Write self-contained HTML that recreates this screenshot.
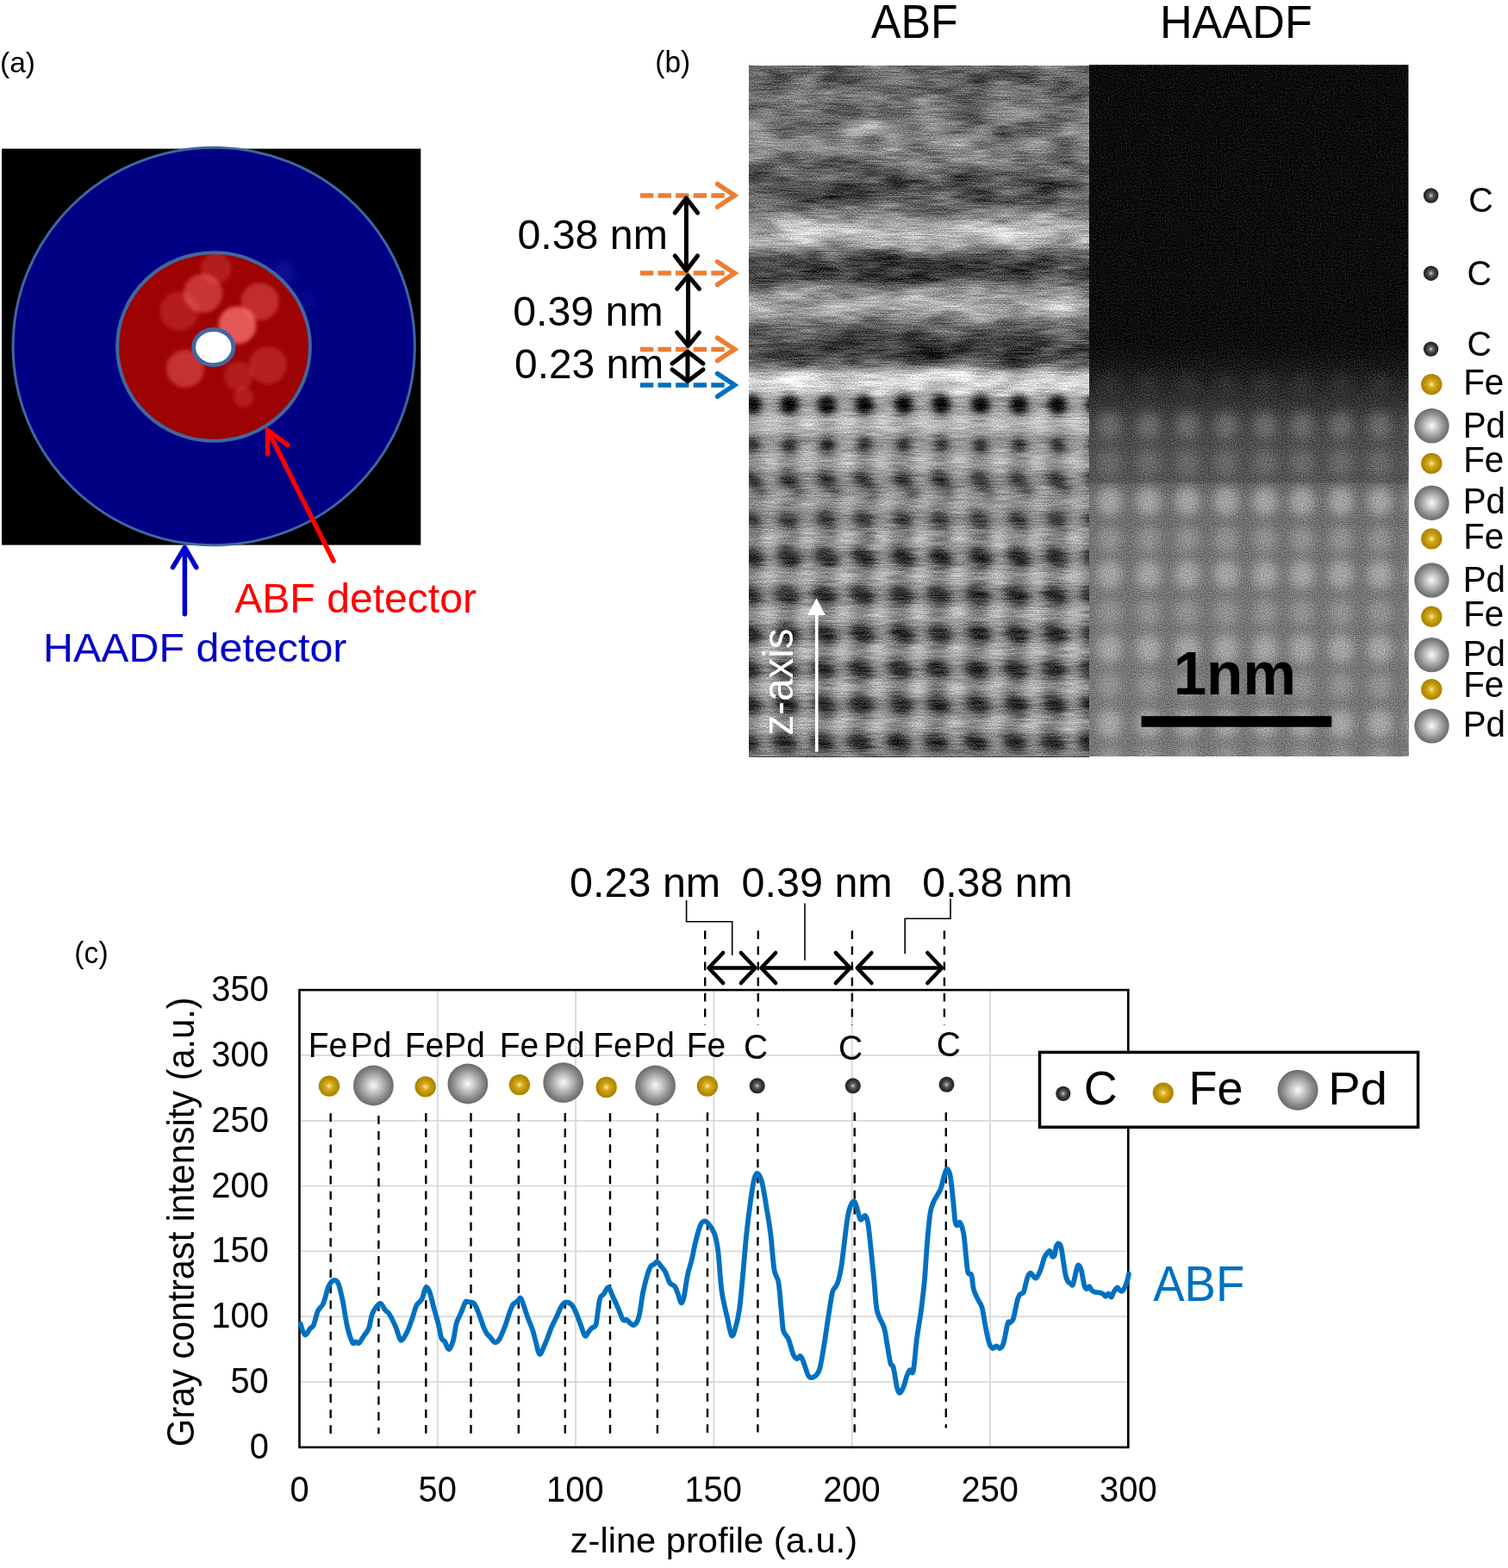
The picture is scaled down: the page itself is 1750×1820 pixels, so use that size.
<!DOCTYPE html>
<html><head><meta charset="utf-8"><title>ABF/HAADF figure</title>
<style>html,body{margin:0;padding:0;background:#fff;}svg{display:block;}text{font-family:"Liberation Sans", Arial, sans-serif;}</style></head>
<body><svg width="1750" height="1820" viewBox="0 0 1750 1820">

<defs>
<radialGradient id="gC" cx="50%" cy="50%" r="50%">
 <stop offset="0" stop-color="#d8d8d8"/><stop offset="0.25" stop-color="#707070"/>
 <stop offset="0.6" stop-color="#3a3a3a"/><stop offset="1" stop-color="#202020"/>
</radialGradient>
<radialGradient id="gFe" cx="50%" cy="50%" r="50%">
 <stop offset="0" stop-color="#ffeea0"/><stop offset="0.3" stop-color="#d9ae22"/>
 <stop offset="0.7" stop-color="#bb9005"/><stop offset="1" stop-color="#a88200"/>
</radialGradient>
<radialGradient id="gPd" cx="50%" cy="50%" r="50%">
 <stop offset="0" stop-color="#fafafa"/><stop offset="0.3" stop-color="#cdcdcd"/>
 <stop offset="0.72" stop-color="#8e8e8e"/><stop offset="1" stop-color="#6a6a6a"/>
</radialGradient>
<radialGradient id="gBlob" cx="50%" cy="50%" r="50%">
 <stop offset="0" stop-color="#e86060" stop-opacity="0.55"/><stop offset="0.8" stop-color="#e05050" stop-opacity="0.45"/>
 <stop offset="1" stop-color="#e05050" stop-opacity="0"/>
</radialGradient>
<filter id="blur2" x="-20%" y="-20%" width="140%" height="140%"><feGaussianBlur stdDeviation="2"/></filter>
<filter id="blur4" x="-30%" y="-30%" width="160%" height="160%"><feGaussianBlur stdDeviation="4"/></filter>
<filter id="blur6" x="-30%" y="-30%" width="160%" height="160%"><feGaussianBlur stdDeviation="6"/></filter>
<filter id="blur8" x="-50%" y="-50%" width="200%" height="200%"><feGaussianBlur stdDeviation="8"/></filter>
<filter id="blur10" x="-50%" y="-50%" width="200%" height="200%"><feGaussianBlur stdDeviation="10"/></filter>
<linearGradient id="abfProf" x1="0" y1="76.0" x2="0" y2="878.5" gradientUnits="userSpaceOnUse"><stop offset="0.0000" stop-color="rgb(105,105,105)"/><stop offset="0.0237" stop-color="rgb(100,100,100)"/><stop offset="0.0424" stop-color="rgb(112,112,112)"/><stop offset="0.0760" stop-color="rgb(115,115,115)"/><stop offset="0.0922" stop-color="rgb(128,128,128)"/><stop offset="0.1196" stop-color="rgb(126,126,126)"/><stop offset="0.1421" stop-color="rgb(116,116,116)"/><stop offset="0.1607" stop-color="rgb(88,88,88)"/><stop offset="0.1769" stop-color="rgb(80,80,80)"/><stop offset="0.1944" stop-color="rgb(90,90,90)"/><stop offset="0.2106" stop-color="rgb(120,120,120)"/><stop offset="0.2293" stop-color="rgb(170,170,170)"/><stop offset="0.2442" stop-color="rgb(185,185,185)"/><stop offset="0.2592" stop-color="rgb(165,165,165)"/><stop offset="0.2692" stop-color="rgb(110,110,110)"/><stop offset="0.2816" stop-color="rgb(70,70,70)"/><stop offset="0.2941" stop-color="rgb(62,62,62)"/><stop offset="0.3090" stop-color="rgb(72,72,72)"/><stop offset="0.3202" stop-color="rgb(115,115,115)"/><stop offset="0.3352" stop-color="rgb(165,165,165)"/><stop offset="0.3477" stop-color="rgb(175,175,175)"/><stop offset="0.3614" stop-color="rgb(150,150,150)"/><stop offset="0.3751" stop-color="rgb(110,110,110)"/><stop offset="0.3888" stop-color="rgb(75,75,75)"/><stop offset="0.4037" stop-color="rgb(70,70,70)"/><stop offset="0.4212" stop-color="rgb(72,72,72)"/><stop offset="0.4336" stop-color="rgb(110,110,110)"/><stop offset="0.4461" stop-color="rgb(200,200,200)"/><stop offset="0.4586" stop-color="rgb(218,218,218)"/><stop offset="0.4710" stop-color="rgb(205,205,205)"/><stop offset="0.4810" stop-color="rgb(165,165,165)"/><stop offset="0.4984" stop-color="rgb(150,150,150)"/><stop offset="0.5134" stop-color="rgb(170,170,170)"/><stop offset="0.5283" stop-color="rgb(168,168,168)"/><stop offset="0.5408" stop-color="rgb(150,150,150)"/><stop offset="0.5657" stop-color="rgb(145,145,145)"/><stop offset="0.6031" stop-color="rgb(140,140,140)"/><stop offset="0.7776" stop-color="rgb(136,136,136)"/><stop offset="1.0000" stop-color="rgb(134,134,134)"/></linearGradient>
<clipPath id="abfClip"><rect x="869.0" y="76.0" width="395.0" height="802.5"/></clipPath>
<clipPath id="hadClip"><rect x="1264.0" y="75.5" width="370.20000000000005" height="802.5"/></clipPath>
<filter id="grainTop" x="0" y="0" width="100%" height="100%" color-interpolation-filters="sRGB"><feTurbulence type="fractalNoise" baseFrequency="0.7 0.9" numOctaves="1" seed="7" result="n1"/><feTurbulence type="fractalNoise" baseFrequency="0.04 0.6" numOctaves="1" seed="3" result="n2"/><feTurbulence type="fractalNoise" baseFrequency="0.02 0.05" numOctaves="2" seed="5" result="n3"/><feComposite in="n1" in2="n2" operator="arithmetic" k1="0" k2="0.6" k3="0.4" k4="0" result="n12"/><feColorMatrix in="n12" type="matrix" values="1 0 0 0 0  1 0 0 0 0  1 0 0 0 0  0 0 0 0 1" result="ng"/><feColorMatrix in="n3" type="matrix" values="1 0 0 0 0  1 0 0 0 0  1 0 0 0 0  0 0 0 0 1" result="nb"/><feComposite in="SourceGraphic" in2="ng" operator="arithmetic" k1="0" k2="1" k3="1.1" k4="-0.55" result="s1"/><feComposite in="s1" in2="nb" operator="arithmetic" k1="0" k2="1" k3="0.5" k4="-0.25"/></filter>
<filter id="grain" x="0" y="0" width="100%" height="100%" color-interpolation-filters="sRGB"><feTurbulence type="fractalNoise" baseFrequency="0.7 0.9" numOctaves="1" seed="7" result="n1"/><feTurbulence type="fractalNoise" baseFrequency="0.04 0.6" numOctaves="1" seed="3" result="n2"/><feComposite in="n1" in2="n2" operator="arithmetic" k1="0" k2="0.6" k3="0.4" k4="0" result="n12"/><feColorMatrix in="n12" type="matrix" values="1 0 0 0 0  1 0 0 0 0  1 0 0 0 0  0 0 0 0 1" result="ng"/><feComposite in="SourceGraphic" in2="ng" operator="arithmetic" k1="0" k2="1" k3="1.0" k4="-0.5"/></filter>
<clipPath id="abfTop"><rect x="869.0" y="76.0" width="395.0" height="384.0"/></clipPath>
<clipPath id="abfBot"><rect x="869.0" y="460" width="395.0" height="418.5"/></clipPath>
<filter id="grain2" x="0" y="0" width="100%" height="100%" color-interpolation-filters="sRGB"><feTurbulence type="fractalNoise" baseFrequency="0.8 0.8" numOctaves="1" seed="11" result="n"/><feColorMatrix in="n" type="matrix" values="1 0 0 0 0  1 0 0 0 0  1 0 0 0 0  0 0 0 0 1" result="ng"/><feComposite in="SourceGraphic" in2="ng" operator="arithmetic" k1="0" k2="1" k3="0.55" k4="-0.275"/></filter>
<linearGradient id="hadProf" x1="0" y1="75.5" x2="0" y2="878.0" gradientUnits="userSpaceOnUse"><stop offset="0.0000" stop-color="rgb(10,10,10)"/><stop offset="0.3981" stop-color="rgb(11,11,11)"/><stop offset="0.4168" stop-color="rgb(16,16,16)"/><stop offset="0.4355" stop-color="rgb(24,24,24)"/><stop offset="0.4542" stop-color="rgb(34,34,34)"/><stop offset="0.4729" stop-color="rgb(44,44,44)"/><stop offset="0.4916" stop-color="rgb(54,54,54)"/><stop offset="0.5103" stop-color="rgb(64,64,64)"/><stop offset="0.5290" stop-color="rgb(72,72,72)"/><stop offset="0.5539" stop-color="rgb(78,78,78)"/><stop offset="0.5850" stop-color="rgb(82,82,82)"/><stop offset="0.6025" stop-color="rgb(84,84,84)"/><stop offset="0.6062" stop-color="rgb(100,100,100)"/><stop offset="0.6287" stop-color="rgb(108,108,108)"/><stop offset="0.6785" stop-color="rgb(112,112,112)"/><stop offset="0.7782" stop-color="rgb(116,116,116)"/><stop offset="1.0000" stop-color="rgb(118,118,118)"/></linearGradient>
</defs>

<rect width="1750" height="1820" fill="#fff"/>
<text x="-0.03" y="83.60" font-size="34.07" fill="#000" textLength="40.96" lengthAdjust="spacingAndGlyphs">(a)</text>
<rect x="2" y="172.6" width="486.3" height="460" fill="#000"/>
<ellipse cx="248.2" cy="402" rx="233.1" ry="230.8" fill="#000084" stroke="#41679e" stroke-width="3"/>
<g filter="url(#blur4)" opacity="0.5"><circle cx="328" cy="318" r="14" fill="#1a1aa0"/><circle cx="355" cy="350" r="12" fill="#10109a"/></g>
<ellipse cx="248" cy="402.5" rx="111.9" ry="109.3" fill="#9e0303" stroke="#41679e" stroke-width="4"/>
<clipPath id="redclip"><ellipse cx="248" cy="402.5" rx="110" ry="107.5"/></clipPath>
<g clip-path="url(#redclip)">
<circle cx="235.6" cy="340.4" r="22.6" fill="#ff7a7a" opacity="0.43" filter="url(#blur2)"/>
<circle cx="275.4" cy="377.4" r="22" fill="#ff7a7a" opacity="0.72" filter="url(#blur2)"/>
<circle cx="301.5" cy="350" r="22" fill="#ff7a7a" opacity="0.36" filter="url(#blur2)"/>
<circle cx="208.2" cy="361" r="23" fill="#ff7a7a" opacity="0.22" filter="url(#blur2)"/>
<circle cx="215" cy="428" r="22" fill="#ff7a7a" opacity="0.40" filter="url(#blur2)"/>
<circle cx="311" cy="424" r="22" fill="#ff7a7a" opacity="0.25" filter="url(#blur2)"/>
<circle cx="276.8" cy="436.4" r="17" fill="#ff7a7a" opacity="0.22" filter="url(#blur2)"/>
<circle cx="282.3" cy="461" r="12" fill="#ff7a7a" opacity="0.22" filter="url(#blur2)"/>
<circle cx="250.7" cy="311.5" r="18" fill="#ff7a7a" opacity="0.22" filter="url(#blur2)"/>
</g>
<ellipse cx="247.8" cy="403.1" rx="23.1" ry="20.6" fill="#fff" stroke="#41679e" stroke-width="4.8"/>
<g stroke="#ff0000" stroke-width="5.5" stroke-linecap="round" stroke-linejoin="round" fill="none"><line x1="387" y1="651" x2="311" y2="500"/><polyline points="310.7,527 310.3,499 333.6,516.4"/></g>
<g stroke="#0000cc" stroke-width="5.5" stroke-linecap="round" stroke-linejoin="round" fill="none"><line x1="214.4" y1="712.7" x2="214.4" y2="636"/><polyline points="200.5,658.6 214.4,635.5 227.8,658.6"/></g>
<text x="272.17" y="710.60" font-size="47.31" fill="#ff0000" textLength="280.88" lengthAdjust="spacingAndGlyphs">ABF detector</text>
<text x="50.11" y="768.20" font-size="47.03" fill="#0000c8" textLength="352.31" lengthAdjust="spacingAndGlyphs">HAADF detector</text>
<text x="760.32" y="83.70" font-size="34.34" fill="#000" textLength="40.94" lengthAdjust="spacingAndGlyphs">(b)</text>
<text x="1010.88" y="43.90" font-size="54.69" fill="#000" textLength="100.64" lengthAdjust="spacingAndGlyphs">ABF</text>
<text x="1345.88" y="43.80" font-size="54.40" fill="#000" textLength="177.00" lengthAdjust="spacingAndGlyphs">HAADF</text>
<g clip-path="url(#abfTop)"><g filter="url(#grainTop)"><rect x="869.0" y="76.0" width="395.0" height="802.5" fill="url(#abfProf)"/><g filter="url(#blur6)"><ellipse cx="912" cy="95" rx="30" ry="10" fill="rgb(60,60,60)" opacity="0.6"/><ellipse cx="1010" cy="215" rx="45" ry="12" fill="rgb(45,45,45)" opacity="0.7"/><ellipse cx="1177" cy="154" rx="25" ry="8" fill="rgb(60,60,60)" opacity="0.5"/><ellipse cx="1212" cy="233" rx="22" ry="8" fill="rgb(60,60,60)" opacity="0.5"/><ellipse cx="1006" cy="148" rx="30" ry="7" fill="rgb(200,200,200)" opacity="0.5"/><ellipse cx="1106" cy="166" rx="25" ry="7" fill="rgb(200,200,200)" opacity="0.5"/><ellipse cx="1000" cy="312" rx="60" ry="14" fill="rgb(40,40,40)" opacity="0.6"/><ellipse cx="1060" cy="305" rx="70" ry="10" fill="rgb(55,55,55)" opacity="0.4"/><ellipse cx="983" cy="393" rx="30" ry="10" fill="rgb(30,30,30)" opacity="0.7"/><ellipse cx="1186" cy="408" rx="25" ry="13" fill="rgb(25,25,25)" opacity="0.8"/><ellipse cx="1070" cy="413" rx="25" ry="9" fill="rgb(40,40,40)" opacity="0.6"/><ellipse cx="1130" cy="398" rx="20" ry="8" fill="rgb(45,45,45)" opacity="0.5"/><ellipse cx="1240" cy="120" rx="20" ry="10" fill="rgb(60,60,60)" opacity="0.4"/><ellipse cx="1180" cy="270" rx="50" ry="8" fill="rgb(220,220,220)" opacity="0.5"/><ellipse cx="940" cy="270" rx="40" ry="8" fill="rgb(225,225,225)" opacity="0.5"/><ellipse cx="1220" cy="355" rx="40" ry="8" fill="rgb(210,210,210)" opacity="0.4"/><ellipse cx="920" cy="442" rx="30" ry="8" fill="rgb(235,235,235)" opacity="0.5"/><ellipse cx="1100" cy="440" rx="40" ry="8" fill="rgb(235,235,235)" opacity="0.4"/></g><g filter="url(#blur4)"><circle cx="872.9" cy="469.5" r="11" fill="rgb(0,0,0)" opacity="1.0"/><circle cx="916.3" cy="469.5" r="11" fill="rgb(0,0,0)" opacity="1.0"/><circle cx="959.7" cy="469.5" r="11" fill="rgb(0,0,0)" opacity="1.0"/><circle cx="1003.1" cy="469.5" r="11" fill="rgb(0,0,0)" opacity="1.0"/><circle cx="1048.9" cy="469.5" r="11" fill="rgb(0,0,0)" opacity="1.0"/><circle cx="1092.3" cy="469.5" r="11" fill="rgb(0,0,0)" opacity="1.0"/><circle cx="1138.0" cy="469.5" r="11" fill="rgb(0,0,0)" opacity="1.0"/><circle cx="1182.6" cy="469.5" r="11" fill="rgb(0,0,0)" opacity="1.0"/><circle cx="1227.1" cy="469.5" r="11" fill="rgb(0,0,0)" opacity="1.0"/><circle cx="1271.0" cy="469.5" r="11" fill="rgb(0,0,0)" opacity="1.0"/><circle cx="872.9" cy="516" r="9" fill="rgb(20,20,20)" opacity="0.9"/><circle cx="916.3" cy="516" r="9" fill="rgb(20,20,20)" opacity="0.9"/><circle cx="959.7" cy="516" r="9" fill="rgb(20,20,20)" opacity="0.9"/><circle cx="1003.1" cy="516" r="9" fill="rgb(20,20,20)" opacity="0.9"/><circle cx="1048.9" cy="516" r="9" fill="rgb(20,20,20)" opacity="0.9"/><circle cx="1092.3" cy="516" r="9" fill="rgb(20,20,20)" opacity="0.9"/><circle cx="1138.0" cy="516" r="9" fill="rgb(20,20,20)" opacity="0.9"/><circle cx="1182.6" cy="516" r="9" fill="rgb(20,20,20)" opacity="0.9"/><circle cx="1227.1" cy="516" r="9" fill="rgb(20,20,20)" opacity="0.9"/><circle cx="1271.0" cy="516" r="9" fill="rgb(20,20,20)" opacity="0.9"/><ellipse cx="872.3" cy="557" rx="12.5" ry="8.5" transform="rotate(30 872.3 557)" fill="rgb(25,25,25)" opacity="0.85"/><ellipse cx="915.7" cy="557" rx="12.5" ry="8.5" transform="rotate(30 915.7 557)" fill="rgb(25,25,25)" opacity="0.85"/><ellipse cx="959.1" cy="557" rx="12.5" ry="8.5" transform="rotate(30 959.1 557)" fill="rgb(25,25,25)" opacity="0.85"/><ellipse cx="1002.5" cy="557" rx="12.5" ry="8.5" transform="rotate(30 1002.5 557)" fill="rgb(25,25,25)" opacity="0.85"/><ellipse cx="1048.3" cy="557" rx="12.5" ry="8.5" transform="rotate(30 1048.3 557)" fill="rgb(25,25,25)" opacity="0.85"/><ellipse cx="1091.7" cy="557" rx="12.5" ry="8.5" transform="rotate(30 1091.7 557)" fill="rgb(25,25,25)" opacity="0.85"/><ellipse cx="1137.4" cy="557" rx="12.5" ry="8.5" transform="rotate(30 1137.4 557)" fill="rgb(25,25,25)" opacity="0.85"/><ellipse cx="1182.0" cy="557" rx="12.5" ry="8.5" transform="rotate(30 1182.0 557)" fill="rgb(25,25,25)" opacity="0.85"/><ellipse cx="1226.5" cy="557" rx="12.5" ry="8.5" transform="rotate(30 1226.5 557)" fill="rgb(25,25,25)" opacity="0.85"/><ellipse cx="1270.4" cy="557" rx="12.5" ry="8.5" transform="rotate(30 1270.4 557)" fill="rgb(25,25,25)" opacity="0.85"/><ellipse cx="888.0" cy="575" rx="11.2" ry="7.6" transform="rotate(30 888.0 575)" fill="rgb(40,40,40)" opacity="0.75"/><ellipse cx="931.4" cy="575" rx="11.2" ry="7.6" transform="rotate(30 931.4 575)" fill="rgb(40,40,40)" opacity="0.75"/><ellipse cx="974.8" cy="575" rx="11.2" ry="7.6" transform="rotate(30 974.8 575)" fill="rgb(40,40,40)" opacity="0.75"/><ellipse cx="1018.2" cy="575" rx="11.2" ry="7.6" transform="rotate(30 1018.2 575)" fill="rgb(40,40,40)" opacity="0.75"/><ellipse cx="1064.0" cy="575" rx="11.2" ry="7.6" transform="rotate(30 1064.0 575)" fill="rgb(40,40,40)" opacity="0.75"/><ellipse cx="1107.4" cy="575" rx="11.2" ry="7.6" transform="rotate(30 1107.4 575)" fill="rgb(40,40,40)" opacity="0.75"/><ellipse cx="1153.1" cy="575" rx="11.2" ry="7.6" transform="rotate(30 1153.1 575)" fill="rgb(40,40,40)" opacity="0.75"/><ellipse cx="1197.7" cy="575" rx="11.2" ry="7.6" transform="rotate(30 1197.7 575)" fill="rgb(40,40,40)" opacity="0.75"/><ellipse cx="1242.2" cy="575" rx="11.2" ry="7.6" transform="rotate(30 1242.2 575)" fill="rgb(40,40,40)" opacity="0.75"/><ellipse cx="1286.1" cy="575" rx="11.2" ry="7.6" transform="rotate(30 1286.1 575)" fill="rgb(40,40,40)" opacity="0.75"/><ellipse cx="871.5" cy="603" rx="12.5" ry="8.5" transform="rotate(20 871.5 603)" fill="rgb(30,30,30)" opacity="0.85"/><ellipse cx="914.9" cy="603" rx="12.5" ry="8.5" transform="rotate(20 914.9 603)" fill="rgb(30,30,30)" opacity="0.85"/><ellipse cx="958.3" cy="603" rx="12.5" ry="8.5" transform="rotate(20 958.3 603)" fill="rgb(30,30,30)" opacity="0.85"/><ellipse cx="1001.7" cy="603" rx="12.5" ry="8.5" transform="rotate(20 1001.7 603)" fill="rgb(30,30,30)" opacity="0.85"/><ellipse cx="1047.5" cy="603" rx="12.5" ry="8.5" transform="rotate(20 1047.5 603)" fill="rgb(30,30,30)" opacity="0.85"/><ellipse cx="1090.9" cy="603" rx="12.5" ry="8.5" transform="rotate(20 1090.9 603)" fill="rgb(30,30,30)" opacity="0.85"/><ellipse cx="1136.6" cy="603" rx="12.5" ry="8.5" transform="rotate(20 1136.6 603)" fill="rgb(30,30,30)" opacity="0.85"/><ellipse cx="1181.2" cy="603" rx="12.5" ry="8.5" transform="rotate(20 1181.2 603)" fill="rgb(30,30,30)" opacity="0.85"/><ellipse cx="1225.7" cy="603" rx="12.5" ry="8.5" transform="rotate(20 1225.7 603)" fill="rgb(30,30,30)" opacity="0.85"/><ellipse cx="1269.6" cy="603" rx="12.5" ry="8.5" transform="rotate(20 1269.6 603)" fill="rgb(30,30,30)" opacity="0.85"/><circle cx="881.2" cy="622" r="7" fill="rgb(70,70,70)" opacity="0.5"/><circle cx="924.6" cy="622" r="7" fill="rgb(70,70,70)" opacity="0.5"/><circle cx="968.0" cy="622" r="7" fill="rgb(70,70,70)" opacity="0.5"/><circle cx="1011.4" cy="622" r="7" fill="rgb(70,70,70)" opacity="0.5"/><circle cx="1057.2" cy="622" r="7" fill="rgb(70,70,70)" opacity="0.5"/><circle cx="1100.6" cy="622" r="7" fill="rgb(70,70,70)" opacity="0.5"/><circle cx="1146.3" cy="622" r="7" fill="rgb(70,70,70)" opacity="0.5"/><circle cx="1190.9" cy="622" r="7" fill="rgb(70,70,70)" opacity="0.5"/><circle cx="1235.4" cy="622" r="7" fill="rgb(70,70,70)" opacity="0.5"/><circle cx="1279.3" cy="622" r="7" fill="rgb(70,70,70)" opacity="0.5"/><ellipse cx="872.7" cy="647" rx="15.0" ry="10.2" transform="rotate(30 872.7 647)" fill="rgb(20,20,20)" opacity="0.9"/><ellipse cx="916.1" cy="647" rx="15.0" ry="10.2" transform="rotate(30 916.1 647)" fill="rgb(20,20,20)" opacity="0.9"/><ellipse cx="959.5" cy="647" rx="15.0" ry="10.2" transform="rotate(30 959.5 647)" fill="rgb(20,20,20)" opacity="0.9"/><ellipse cx="1002.9" cy="647" rx="15.0" ry="10.2" transform="rotate(30 1002.9 647)" fill="rgb(20,20,20)" opacity="0.9"/><ellipse cx="1048.7" cy="647" rx="15.0" ry="10.2" transform="rotate(30 1048.7 647)" fill="rgb(20,20,20)" opacity="0.9"/><ellipse cx="1092.1" cy="647" rx="15.0" ry="10.2" transform="rotate(30 1092.1 647)" fill="rgb(20,20,20)" opacity="0.9"/><ellipse cx="1137.8" cy="647" rx="15.0" ry="10.2" transform="rotate(30 1137.8 647)" fill="rgb(20,20,20)" opacity="0.9"/><ellipse cx="1182.4" cy="647" rx="15.0" ry="10.2" transform="rotate(30 1182.4 647)" fill="rgb(20,20,20)" opacity="0.9"/><ellipse cx="1226.9" cy="647" rx="15.0" ry="10.2" transform="rotate(30 1226.9 647)" fill="rgb(20,20,20)" opacity="0.9"/><ellipse cx="1270.8" cy="647" rx="15.0" ry="10.2" transform="rotate(30 1270.8 647)" fill="rgb(20,20,20)" opacity="0.9"/><ellipse cx="870.0" cy="691" rx="15.0" ry="10.2" transform="rotate(20 870.0 691)" fill="rgb(25,25,25)" opacity="0.88"/><ellipse cx="913.4" cy="691" rx="15.0" ry="10.2" transform="rotate(20 913.4 691)" fill="rgb(25,25,25)" opacity="0.88"/><ellipse cx="956.8" cy="691" rx="15.0" ry="10.2" transform="rotate(20 956.8 691)" fill="rgb(25,25,25)" opacity="0.88"/><ellipse cx="1000.2" cy="691" rx="15.0" ry="10.2" transform="rotate(20 1000.2 691)" fill="rgb(25,25,25)" opacity="0.88"/><ellipse cx="1046.0" cy="691" rx="15.0" ry="10.2" transform="rotate(20 1046.0 691)" fill="rgb(25,25,25)" opacity="0.88"/><ellipse cx="1089.4" cy="691" rx="15.0" ry="10.2" transform="rotate(20 1089.4 691)" fill="rgb(25,25,25)" opacity="0.88"/><ellipse cx="1135.1" cy="691" rx="15.0" ry="10.2" transform="rotate(20 1135.1 691)" fill="rgb(25,25,25)" opacity="0.88"/><ellipse cx="1179.7" cy="691" rx="15.0" ry="10.2" transform="rotate(20 1179.7 691)" fill="rgb(25,25,25)" opacity="0.88"/><ellipse cx="1224.2" cy="691" rx="15.0" ry="10.2" transform="rotate(20 1224.2 691)" fill="rgb(25,25,25)" opacity="0.88"/><ellipse cx="1268.1" cy="691" rx="15.0" ry="10.2" transform="rotate(20 1268.1 691)" fill="rgb(25,25,25)" opacity="0.88"/><ellipse cx="871.2" cy="736" rx="15.0" ry="10.2" transform="rotate(25 871.2 736)" fill="rgb(20,20,20)" opacity="0.9"/><ellipse cx="914.6" cy="736" rx="15.0" ry="10.2" transform="rotate(25 914.6 736)" fill="rgb(20,20,20)" opacity="0.9"/><ellipse cx="958.0" cy="736" rx="15.0" ry="10.2" transform="rotate(25 958.0 736)" fill="rgb(20,20,20)" opacity="0.9"/><ellipse cx="1001.4" cy="736" rx="15.0" ry="10.2" transform="rotate(25 1001.4 736)" fill="rgb(20,20,20)" opacity="0.9"/><ellipse cx="1047.2" cy="736" rx="15.0" ry="10.2" transform="rotate(25 1047.2 736)" fill="rgb(20,20,20)" opacity="0.9"/><ellipse cx="1090.6" cy="736" rx="15.0" ry="10.2" transform="rotate(25 1090.6 736)" fill="rgb(20,20,20)" opacity="0.9"/><ellipse cx="1136.3" cy="736" rx="15.0" ry="10.2" transform="rotate(25 1136.3 736)" fill="rgb(20,20,20)" opacity="0.9"/><ellipse cx="1180.9" cy="736" rx="15.0" ry="10.2" transform="rotate(25 1180.9 736)" fill="rgb(20,20,20)" opacity="0.9"/><ellipse cx="1225.4" cy="736" rx="15.0" ry="10.2" transform="rotate(25 1225.4 736)" fill="rgb(20,20,20)" opacity="0.9"/><ellipse cx="1269.3" cy="736" rx="15.0" ry="10.2" transform="rotate(25 1269.3 736)" fill="rgb(20,20,20)" opacity="0.9"/><ellipse cx="868.5" cy="777" rx="15.0" ry="10.2" transform="rotate(20 868.5 777)" fill="rgb(25,25,25)" opacity="0.88"/><ellipse cx="911.9" cy="777" rx="15.0" ry="10.2" transform="rotate(20 911.9 777)" fill="rgb(25,25,25)" opacity="0.88"/><ellipse cx="955.3" cy="777" rx="15.0" ry="10.2" transform="rotate(20 955.3 777)" fill="rgb(25,25,25)" opacity="0.88"/><ellipse cx="998.7" cy="777" rx="15.0" ry="10.2" transform="rotate(20 998.7 777)" fill="rgb(25,25,25)" opacity="0.88"/><ellipse cx="1044.5" cy="777" rx="15.0" ry="10.2" transform="rotate(20 1044.5 777)" fill="rgb(25,25,25)" opacity="0.88"/><ellipse cx="1087.9" cy="777" rx="15.0" ry="10.2" transform="rotate(20 1087.9 777)" fill="rgb(25,25,25)" opacity="0.88"/><ellipse cx="1133.6" cy="777" rx="15.0" ry="10.2" transform="rotate(20 1133.6 777)" fill="rgb(25,25,25)" opacity="0.88"/><ellipse cx="1178.2" cy="777" rx="15.0" ry="10.2" transform="rotate(20 1178.2 777)" fill="rgb(25,25,25)" opacity="0.88"/><ellipse cx="1222.7" cy="777" rx="15.0" ry="10.2" transform="rotate(20 1222.7 777)" fill="rgb(25,25,25)" opacity="0.88"/><ellipse cx="1266.6" cy="777" rx="15.0" ry="10.2" transform="rotate(20 1266.6 777)" fill="rgb(25,25,25)" opacity="0.88"/><ellipse cx="869.8" cy="818" rx="15.0" ry="10.2" transform="rotate(25 869.8 818)" fill="rgb(20,20,20)" opacity="0.9"/><ellipse cx="913.2" cy="818" rx="15.0" ry="10.2" transform="rotate(25 913.2 818)" fill="rgb(20,20,20)" opacity="0.9"/><ellipse cx="956.6" cy="818" rx="15.0" ry="10.2" transform="rotate(25 956.6 818)" fill="rgb(20,20,20)" opacity="0.9"/><ellipse cx="1000.0" cy="818" rx="15.0" ry="10.2" transform="rotate(25 1000.0 818)" fill="rgb(20,20,20)" opacity="0.9"/><ellipse cx="1045.8" cy="818" rx="15.0" ry="10.2" transform="rotate(25 1045.8 818)" fill="rgb(20,20,20)" opacity="0.9"/><ellipse cx="1089.2" cy="818" rx="15.0" ry="10.2" transform="rotate(25 1089.2 818)" fill="rgb(20,20,20)" opacity="0.9"/><ellipse cx="1134.9" cy="818" rx="15.0" ry="10.2" transform="rotate(25 1134.9 818)" fill="rgb(20,20,20)" opacity="0.9"/><ellipse cx="1179.5" cy="818" rx="15.0" ry="10.2" transform="rotate(25 1179.5 818)" fill="rgb(20,20,20)" opacity="0.9"/><ellipse cx="1224.0" cy="818" rx="15.0" ry="10.2" transform="rotate(25 1224.0 818)" fill="rgb(20,20,20)" opacity="0.9"/><ellipse cx="1267.9" cy="818" rx="15.0" ry="10.2" transform="rotate(25 1267.9 818)" fill="rgb(20,20,20)" opacity="0.9"/><ellipse cx="867.1" cy="862" rx="15.0" ry="10.2" transform="rotate(20 867.1 862)" fill="rgb(25,25,25)" opacity="0.88"/><ellipse cx="910.5" cy="862" rx="15.0" ry="10.2" transform="rotate(20 910.5 862)" fill="rgb(25,25,25)" opacity="0.88"/><ellipse cx="953.9" cy="862" rx="15.0" ry="10.2" transform="rotate(20 953.9 862)" fill="rgb(25,25,25)" opacity="0.88"/><ellipse cx="997.3" cy="862" rx="15.0" ry="10.2" transform="rotate(20 997.3 862)" fill="rgb(25,25,25)" opacity="0.88"/><ellipse cx="1043.1" cy="862" rx="15.0" ry="10.2" transform="rotate(20 1043.1 862)" fill="rgb(25,25,25)" opacity="0.88"/><ellipse cx="1086.5" cy="862" rx="15.0" ry="10.2" transform="rotate(20 1086.5 862)" fill="rgb(25,25,25)" opacity="0.88"/><ellipse cx="1132.2" cy="862" rx="15.0" ry="10.2" transform="rotate(20 1132.2 862)" fill="rgb(25,25,25)" opacity="0.88"/><ellipse cx="1176.8" cy="862" rx="15.0" ry="10.2" transform="rotate(20 1176.8 862)" fill="rgb(25,25,25)" opacity="0.88"/><ellipse cx="1221.3" cy="862" rx="15.0" ry="10.2" transform="rotate(20 1221.3 862)" fill="rgb(25,25,25)" opacity="0.88"/><ellipse cx="1265.2" cy="862" rx="15.0" ry="10.2" transform="rotate(20 1265.2 862)" fill="rgb(25,25,25)" opacity="0.88"/></g><g filter="url(#blur6)"><circle cx="894.9" cy="490" r="11" fill="#e8e8e8" opacity="0.6"/><circle cx="938.3" cy="490" r="11" fill="#e8e8e8" opacity="0.6"/><circle cx="981.7" cy="490" r="11" fill="#e8e8e8" opacity="0.6"/><circle cx="1025.1" cy="490" r="11" fill="#e8e8e8" opacity="0.6"/><circle cx="1070.9" cy="490" r="11" fill="#e8e8e8" opacity="0.6"/><circle cx="1114.3" cy="490" r="11" fill="#e8e8e8" opacity="0.6"/><circle cx="1160.0" cy="490" r="11" fill="#e8e8e8" opacity="0.6"/><circle cx="1204.6" cy="490" r="11" fill="#e8e8e8" opacity="0.6"/><circle cx="1249.1" cy="490" r="11" fill="#e8e8e8" opacity="0.6"/><circle cx="1293.0" cy="490" r="11" fill="#e8e8e8" opacity="0.6"/><circle cx="894.6" cy="536" r="11" fill="#e8e8e8" opacity="0.6"/><circle cx="938.0" cy="536" r="11" fill="#e8e8e8" opacity="0.6"/><circle cx="981.4" cy="536" r="11" fill="#e8e8e8" opacity="0.6"/><circle cx="1024.8" cy="536" r="11" fill="#e8e8e8" opacity="0.6"/><circle cx="1070.6" cy="536" r="11" fill="#e8e8e8" opacity="0.6"/><circle cx="1114.0" cy="536" r="11" fill="#e8e8e8" opacity="0.6"/><circle cx="1159.7" cy="536" r="11" fill="#e8e8e8" opacity="0.6"/><circle cx="1204.3" cy="536" r="11" fill="#e8e8e8" opacity="0.6"/><circle cx="1248.8" cy="536" r="11" fill="#e8e8e8" opacity="0.6"/><circle cx="1292.7" cy="536" r="11" fill="#e8e8e8" opacity="0.6"/><circle cx="893.9" cy="580" r="11" fill="#e8e8e8" opacity="0.6"/><circle cx="937.3" cy="580" r="11" fill="#e8e8e8" opacity="0.6"/><circle cx="980.7" cy="580" r="11" fill="#e8e8e8" opacity="0.6"/><circle cx="1024.1" cy="580" r="11" fill="#e8e8e8" opacity="0.6"/><circle cx="1069.9" cy="580" r="11" fill="#e8e8e8" opacity="0.6"/><circle cx="1113.3" cy="580" r="11" fill="#e8e8e8" opacity="0.6"/><circle cx="1159.0" cy="580" r="11" fill="#e8e8e8" opacity="0.6"/><circle cx="1203.6" cy="580" r="11" fill="#e8e8e8" opacity="0.6"/><circle cx="1248.1" cy="580" r="11" fill="#e8e8e8" opacity="0.6"/><circle cx="1292.0" cy="580" r="11" fill="#e8e8e8" opacity="0.6"/><circle cx="893.1" cy="625" r="11" fill="#e8e8e8" opacity="0.6"/><circle cx="936.5" cy="625" r="11" fill="#e8e8e8" opacity="0.6"/><circle cx="979.9" cy="625" r="11" fill="#e8e8e8" opacity="0.6"/><circle cx="1023.3" cy="625" r="11" fill="#e8e8e8" opacity="0.6"/><circle cx="1069.1" cy="625" r="11" fill="#e8e8e8" opacity="0.6"/><circle cx="1112.5" cy="625" r="11" fill="#e8e8e8" opacity="0.6"/><circle cx="1158.2" cy="625" r="11" fill="#e8e8e8" opacity="0.6"/><circle cx="1202.8" cy="625" r="11" fill="#e8e8e8" opacity="0.6"/><circle cx="1247.3" cy="625" r="11" fill="#e8e8e8" opacity="0.6"/><circle cx="1291.2" cy="625" r="11" fill="#e8e8e8" opacity="0.6"/><circle cx="892.4" cy="669" r="11" fill="#e8e8e8" opacity="0.6"/><circle cx="935.8" cy="669" r="11" fill="#e8e8e8" opacity="0.6"/><circle cx="979.2" cy="669" r="11" fill="#e8e8e8" opacity="0.6"/><circle cx="1022.6" cy="669" r="11" fill="#e8e8e8" opacity="0.6"/><circle cx="1068.4" cy="669" r="11" fill="#e8e8e8" opacity="0.6"/><circle cx="1111.8" cy="669" r="11" fill="#e8e8e8" opacity="0.6"/><circle cx="1157.5" cy="669" r="11" fill="#e8e8e8" opacity="0.6"/><circle cx="1202.1" cy="669" r="11" fill="#e8e8e8" opacity="0.6"/><circle cx="1246.6" cy="669" r="11" fill="#e8e8e8" opacity="0.6"/><circle cx="1290.5" cy="669" r="11" fill="#e8e8e8" opacity="0.6"/><circle cx="891.6" cy="713" r="11" fill="#e8e8e8" opacity="0.6"/><circle cx="935.0" cy="713" r="11" fill="#e8e8e8" opacity="0.6"/><circle cx="978.4" cy="713" r="11" fill="#e8e8e8" opacity="0.6"/><circle cx="1021.8" cy="713" r="11" fill="#e8e8e8" opacity="0.6"/><circle cx="1067.6" cy="713" r="11" fill="#e8e8e8" opacity="0.6"/><circle cx="1111.0" cy="713" r="11" fill="#e8e8e8" opacity="0.6"/><circle cx="1156.7" cy="713" r="11" fill="#e8e8e8" opacity="0.6"/><circle cx="1201.3" cy="713" r="11" fill="#e8e8e8" opacity="0.6"/><circle cx="1245.8" cy="713" r="11" fill="#e8e8e8" opacity="0.6"/><circle cx="1289.7" cy="713" r="11" fill="#e8e8e8" opacity="0.6"/><circle cx="890.9" cy="756" r="11" fill="#e8e8e8" opacity="0.6"/><circle cx="934.3" cy="756" r="11" fill="#e8e8e8" opacity="0.6"/><circle cx="977.7" cy="756" r="11" fill="#e8e8e8" opacity="0.6"/><circle cx="1021.1" cy="756" r="11" fill="#e8e8e8" opacity="0.6"/><circle cx="1066.9" cy="756" r="11" fill="#e8e8e8" opacity="0.6"/><circle cx="1110.3" cy="756" r="11" fill="#e8e8e8" opacity="0.6"/><circle cx="1156.0" cy="756" r="11" fill="#e8e8e8" opacity="0.6"/><circle cx="1200.6" cy="756" r="11" fill="#e8e8e8" opacity="0.6"/><circle cx="1245.1" cy="756" r="11" fill="#e8e8e8" opacity="0.6"/><circle cx="1289.0" cy="756" r="11" fill="#e8e8e8" opacity="0.6"/><circle cx="890.2" cy="798" r="11" fill="#e8e8e8" opacity="0.6"/><circle cx="933.6" cy="798" r="11" fill="#e8e8e8" opacity="0.6"/><circle cx="977.0" cy="798" r="11" fill="#e8e8e8" opacity="0.6"/><circle cx="1020.4" cy="798" r="11" fill="#e8e8e8" opacity="0.6"/><circle cx="1066.2" cy="798" r="11" fill="#e8e8e8" opacity="0.6"/><circle cx="1109.6" cy="798" r="11" fill="#e8e8e8" opacity="0.6"/><circle cx="1155.3" cy="798" r="11" fill="#e8e8e8" opacity="0.6"/><circle cx="1199.9" cy="798" r="11" fill="#e8e8e8" opacity="0.6"/><circle cx="1244.4" cy="798" r="11" fill="#e8e8e8" opacity="0.6"/><circle cx="1288.3" cy="798" r="11" fill="#e8e8e8" opacity="0.6"/><circle cx="889.5" cy="840" r="11" fill="#e8e8e8" opacity="0.6"/><circle cx="932.9" cy="840" r="11" fill="#e8e8e8" opacity="0.6"/><circle cx="976.3" cy="840" r="11" fill="#e8e8e8" opacity="0.6"/><circle cx="1019.7" cy="840" r="11" fill="#e8e8e8" opacity="0.6"/><circle cx="1065.5" cy="840" r="11" fill="#e8e8e8" opacity="0.6"/><circle cx="1108.9" cy="840" r="11" fill="#e8e8e8" opacity="0.6"/><circle cx="1154.6" cy="840" r="11" fill="#e8e8e8" opacity="0.6"/><circle cx="1199.2" cy="840" r="11" fill="#e8e8e8" opacity="0.6"/><circle cx="1243.7" cy="840" r="11" fill="#e8e8e8" opacity="0.6"/><circle cx="1287.6" cy="840" r="11" fill="#e8e8e8" opacity="0.6"/></g></g></g>
<g clip-path="url(#abfBot)"><g filter="url(#grain)"><rect x="869.0" y="76.0" width="395.0" height="802.5" fill="url(#abfProf)"/><g filter="url(#blur6)"><ellipse cx="912" cy="95" rx="30" ry="10" fill="rgb(60,60,60)" opacity="0.6"/><ellipse cx="1010" cy="215" rx="45" ry="12" fill="rgb(45,45,45)" opacity="0.7"/><ellipse cx="1177" cy="154" rx="25" ry="8" fill="rgb(60,60,60)" opacity="0.5"/><ellipse cx="1212" cy="233" rx="22" ry="8" fill="rgb(60,60,60)" opacity="0.5"/><ellipse cx="1006" cy="148" rx="30" ry="7" fill="rgb(200,200,200)" opacity="0.5"/><ellipse cx="1106" cy="166" rx="25" ry="7" fill="rgb(200,200,200)" opacity="0.5"/><ellipse cx="1000" cy="312" rx="60" ry="14" fill="rgb(40,40,40)" opacity="0.6"/><ellipse cx="1060" cy="305" rx="70" ry="10" fill="rgb(55,55,55)" opacity="0.4"/><ellipse cx="983" cy="393" rx="30" ry="10" fill="rgb(30,30,30)" opacity="0.7"/><ellipse cx="1186" cy="408" rx="25" ry="13" fill="rgb(25,25,25)" opacity="0.8"/><ellipse cx="1070" cy="413" rx="25" ry="9" fill="rgb(40,40,40)" opacity="0.6"/><ellipse cx="1130" cy="398" rx="20" ry="8" fill="rgb(45,45,45)" opacity="0.5"/><ellipse cx="1240" cy="120" rx="20" ry="10" fill="rgb(60,60,60)" opacity="0.4"/><ellipse cx="1180" cy="270" rx="50" ry="8" fill="rgb(220,220,220)" opacity="0.5"/><ellipse cx="940" cy="270" rx="40" ry="8" fill="rgb(225,225,225)" opacity="0.5"/><ellipse cx="1220" cy="355" rx="40" ry="8" fill="rgb(210,210,210)" opacity="0.4"/><ellipse cx="920" cy="442" rx="30" ry="8" fill="rgb(235,235,235)" opacity="0.5"/><ellipse cx="1100" cy="440" rx="40" ry="8" fill="rgb(235,235,235)" opacity="0.4"/></g><g filter="url(#blur4)"><circle cx="872.9" cy="469.5" r="11" fill="rgb(0,0,0)" opacity="1.0"/><circle cx="916.3" cy="469.5" r="11" fill="rgb(0,0,0)" opacity="1.0"/><circle cx="959.7" cy="469.5" r="11" fill="rgb(0,0,0)" opacity="1.0"/><circle cx="1003.1" cy="469.5" r="11" fill="rgb(0,0,0)" opacity="1.0"/><circle cx="1048.9" cy="469.5" r="11" fill="rgb(0,0,0)" opacity="1.0"/><circle cx="1092.3" cy="469.5" r="11" fill="rgb(0,0,0)" opacity="1.0"/><circle cx="1138.0" cy="469.5" r="11" fill="rgb(0,0,0)" opacity="1.0"/><circle cx="1182.6" cy="469.5" r="11" fill="rgb(0,0,0)" opacity="1.0"/><circle cx="1227.1" cy="469.5" r="11" fill="rgb(0,0,0)" opacity="1.0"/><circle cx="1271.0" cy="469.5" r="11" fill="rgb(0,0,0)" opacity="1.0"/><circle cx="872.9" cy="516" r="9" fill="rgb(20,20,20)" opacity="0.9"/><circle cx="916.3" cy="516" r="9" fill="rgb(20,20,20)" opacity="0.9"/><circle cx="959.7" cy="516" r="9" fill="rgb(20,20,20)" opacity="0.9"/><circle cx="1003.1" cy="516" r="9" fill="rgb(20,20,20)" opacity="0.9"/><circle cx="1048.9" cy="516" r="9" fill="rgb(20,20,20)" opacity="0.9"/><circle cx="1092.3" cy="516" r="9" fill="rgb(20,20,20)" opacity="0.9"/><circle cx="1138.0" cy="516" r="9" fill="rgb(20,20,20)" opacity="0.9"/><circle cx="1182.6" cy="516" r="9" fill="rgb(20,20,20)" opacity="0.9"/><circle cx="1227.1" cy="516" r="9" fill="rgb(20,20,20)" opacity="0.9"/><circle cx="1271.0" cy="516" r="9" fill="rgb(20,20,20)" opacity="0.9"/><ellipse cx="872.3" cy="557" rx="12.5" ry="8.5" transform="rotate(30 872.3 557)" fill="rgb(25,25,25)" opacity="0.85"/><ellipse cx="915.7" cy="557" rx="12.5" ry="8.5" transform="rotate(30 915.7 557)" fill="rgb(25,25,25)" opacity="0.85"/><ellipse cx="959.1" cy="557" rx="12.5" ry="8.5" transform="rotate(30 959.1 557)" fill="rgb(25,25,25)" opacity="0.85"/><ellipse cx="1002.5" cy="557" rx="12.5" ry="8.5" transform="rotate(30 1002.5 557)" fill="rgb(25,25,25)" opacity="0.85"/><ellipse cx="1048.3" cy="557" rx="12.5" ry="8.5" transform="rotate(30 1048.3 557)" fill="rgb(25,25,25)" opacity="0.85"/><ellipse cx="1091.7" cy="557" rx="12.5" ry="8.5" transform="rotate(30 1091.7 557)" fill="rgb(25,25,25)" opacity="0.85"/><ellipse cx="1137.4" cy="557" rx="12.5" ry="8.5" transform="rotate(30 1137.4 557)" fill="rgb(25,25,25)" opacity="0.85"/><ellipse cx="1182.0" cy="557" rx="12.5" ry="8.5" transform="rotate(30 1182.0 557)" fill="rgb(25,25,25)" opacity="0.85"/><ellipse cx="1226.5" cy="557" rx="12.5" ry="8.5" transform="rotate(30 1226.5 557)" fill="rgb(25,25,25)" opacity="0.85"/><ellipse cx="1270.4" cy="557" rx="12.5" ry="8.5" transform="rotate(30 1270.4 557)" fill="rgb(25,25,25)" opacity="0.85"/><ellipse cx="888.0" cy="575" rx="11.2" ry="7.6" transform="rotate(30 888.0 575)" fill="rgb(40,40,40)" opacity="0.75"/><ellipse cx="931.4" cy="575" rx="11.2" ry="7.6" transform="rotate(30 931.4 575)" fill="rgb(40,40,40)" opacity="0.75"/><ellipse cx="974.8" cy="575" rx="11.2" ry="7.6" transform="rotate(30 974.8 575)" fill="rgb(40,40,40)" opacity="0.75"/><ellipse cx="1018.2" cy="575" rx="11.2" ry="7.6" transform="rotate(30 1018.2 575)" fill="rgb(40,40,40)" opacity="0.75"/><ellipse cx="1064.0" cy="575" rx="11.2" ry="7.6" transform="rotate(30 1064.0 575)" fill="rgb(40,40,40)" opacity="0.75"/><ellipse cx="1107.4" cy="575" rx="11.2" ry="7.6" transform="rotate(30 1107.4 575)" fill="rgb(40,40,40)" opacity="0.75"/><ellipse cx="1153.1" cy="575" rx="11.2" ry="7.6" transform="rotate(30 1153.1 575)" fill="rgb(40,40,40)" opacity="0.75"/><ellipse cx="1197.7" cy="575" rx="11.2" ry="7.6" transform="rotate(30 1197.7 575)" fill="rgb(40,40,40)" opacity="0.75"/><ellipse cx="1242.2" cy="575" rx="11.2" ry="7.6" transform="rotate(30 1242.2 575)" fill="rgb(40,40,40)" opacity="0.75"/><ellipse cx="1286.1" cy="575" rx="11.2" ry="7.6" transform="rotate(30 1286.1 575)" fill="rgb(40,40,40)" opacity="0.75"/><ellipse cx="871.5" cy="603" rx="12.5" ry="8.5" transform="rotate(20 871.5 603)" fill="rgb(30,30,30)" opacity="0.85"/><ellipse cx="914.9" cy="603" rx="12.5" ry="8.5" transform="rotate(20 914.9 603)" fill="rgb(30,30,30)" opacity="0.85"/><ellipse cx="958.3" cy="603" rx="12.5" ry="8.5" transform="rotate(20 958.3 603)" fill="rgb(30,30,30)" opacity="0.85"/><ellipse cx="1001.7" cy="603" rx="12.5" ry="8.5" transform="rotate(20 1001.7 603)" fill="rgb(30,30,30)" opacity="0.85"/><ellipse cx="1047.5" cy="603" rx="12.5" ry="8.5" transform="rotate(20 1047.5 603)" fill="rgb(30,30,30)" opacity="0.85"/><ellipse cx="1090.9" cy="603" rx="12.5" ry="8.5" transform="rotate(20 1090.9 603)" fill="rgb(30,30,30)" opacity="0.85"/><ellipse cx="1136.6" cy="603" rx="12.5" ry="8.5" transform="rotate(20 1136.6 603)" fill="rgb(30,30,30)" opacity="0.85"/><ellipse cx="1181.2" cy="603" rx="12.5" ry="8.5" transform="rotate(20 1181.2 603)" fill="rgb(30,30,30)" opacity="0.85"/><ellipse cx="1225.7" cy="603" rx="12.5" ry="8.5" transform="rotate(20 1225.7 603)" fill="rgb(30,30,30)" opacity="0.85"/><ellipse cx="1269.6" cy="603" rx="12.5" ry="8.5" transform="rotate(20 1269.6 603)" fill="rgb(30,30,30)" opacity="0.85"/><circle cx="881.2" cy="622" r="7" fill="rgb(70,70,70)" opacity="0.5"/><circle cx="924.6" cy="622" r="7" fill="rgb(70,70,70)" opacity="0.5"/><circle cx="968.0" cy="622" r="7" fill="rgb(70,70,70)" opacity="0.5"/><circle cx="1011.4" cy="622" r="7" fill="rgb(70,70,70)" opacity="0.5"/><circle cx="1057.2" cy="622" r="7" fill="rgb(70,70,70)" opacity="0.5"/><circle cx="1100.6" cy="622" r="7" fill="rgb(70,70,70)" opacity="0.5"/><circle cx="1146.3" cy="622" r="7" fill="rgb(70,70,70)" opacity="0.5"/><circle cx="1190.9" cy="622" r="7" fill="rgb(70,70,70)" opacity="0.5"/><circle cx="1235.4" cy="622" r="7" fill="rgb(70,70,70)" opacity="0.5"/><circle cx="1279.3" cy="622" r="7" fill="rgb(70,70,70)" opacity="0.5"/><ellipse cx="872.7" cy="647" rx="15.0" ry="10.2" transform="rotate(30 872.7 647)" fill="rgb(20,20,20)" opacity="0.9"/><ellipse cx="916.1" cy="647" rx="15.0" ry="10.2" transform="rotate(30 916.1 647)" fill="rgb(20,20,20)" opacity="0.9"/><ellipse cx="959.5" cy="647" rx="15.0" ry="10.2" transform="rotate(30 959.5 647)" fill="rgb(20,20,20)" opacity="0.9"/><ellipse cx="1002.9" cy="647" rx="15.0" ry="10.2" transform="rotate(30 1002.9 647)" fill="rgb(20,20,20)" opacity="0.9"/><ellipse cx="1048.7" cy="647" rx="15.0" ry="10.2" transform="rotate(30 1048.7 647)" fill="rgb(20,20,20)" opacity="0.9"/><ellipse cx="1092.1" cy="647" rx="15.0" ry="10.2" transform="rotate(30 1092.1 647)" fill="rgb(20,20,20)" opacity="0.9"/><ellipse cx="1137.8" cy="647" rx="15.0" ry="10.2" transform="rotate(30 1137.8 647)" fill="rgb(20,20,20)" opacity="0.9"/><ellipse cx="1182.4" cy="647" rx="15.0" ry="10.2" transform="rotate(30 1182.4 647)" fill="rgb(20,20,20)" opacity="0.9"/><ellipse cx="1226.9" cy="647" rx="15.0" ry="10.2" transform="rotate(30 1226.9 647)" fill="rgb(20,20,20)" opacity="0.9"/><ellipse cx="1270.8" cy="647" rx="15.0" ry="10.2" transform="rotate(30 1270.8 647)" fill="rgb(20,20,20)" opacity="0.9"/><ellipse cx="870.0" cy="691" rx="15.0" ry="10.2" transform="rotate(20 870.0 691)" fill="rgb(25,25,25)" opacity="0.88"/><ellipse cx="913.4" cy="691" rx="15.0" ry="10.2" transform="rotate(20 913.4 691)" fill="rgb(25,25,25)" opacity="0.88"/><ellipse cx="956.8" cy="691" rx="15.0" ry="10.2" transform="rotate(20 956.8 691)" fill="rgb(25,25,25)" opacity="0.88"/><ellipse cx="1000.2" cy="691" rx="15.0" ry="10.2" transform="rotate(20 1000.2 691)" fill="rgb(25,25,25)" opacity="0.88"/><ellipse cx="1046.0" cy="691" rx="15.0" ry="10.2" transform="rotate(20 1046.0 691)" fill="rgb(25,25,25)" opacity="0.88"/><ellipse cx="1089.4" cy="691" rx="15.0" ry="10.2" transform="rotate(20 1089.4 691)" fill="rgb(25,25,25)" opacity="0.88"/><ellipse cx="1135.1" cy="691" rx="15.0" ry="10.2" transform="rotate(20 1135.1 691)" fill="rgb(25,25,25)" opacity="0.88"/><ellipse cx="1179.7" cy="691" rx="15.0" ry="10.2" transform="rotate(20 1179.7 691)" fill="rgb(25,25,25)" opacity="0.88"/><ellipse cx="1224.2" cy="691" rx="15.0" ry="10.2" transform="rotate(20 1224.2 691)" fill="rgb(25,25,25)" opacity="0.88"/><ellipse cx="1268.1" cy="691" rx="15.0" ry="10.2" transform="rotate(20 1268.1 691)" fill="rgb(25,25,25)" opacity="0.88"/><ellipse cx="871.2" cy="736" rx="15.0" ry="10.2" transform="rotate(25 871.2 736)" fill="rgb(20,20,20)" opacity="0.9"/><ellipse cx="914.6" cy="736" rx="15.0" ry="10.2" transform="rotate(25 914.6 736)" fill="rgb(20,20,20)" opacity="0.9"/><ellipse cx="958.0" cy="736" rx="15.0" ry="10.2" transform="rotate(25 958.0 736)" fill="rgb(20,20,20)" opacity="0.9"/><ellipse cx="1001.4" cy="736" rx="15.0" ry="10.2" transform="rotate(25 1001.4 736)" fill="rgb(20,20,20)" opacity="0.9"/><ellipse cx="1047.2" cy="736" rx="15.0" ry="10.2" transform="rotate(25 1047.2 736)" fill="rgb(20,20,20)" opacity="0.9"/><ellipse cx="1090.6" cy="736" rx="15.0" ry="10.2" transform="rotate(25 1090.6 736)" fill="rgb(20,20,20)" opacity="0.9"/><ellipse cx="1136.3" cy="736" rx="15.0" ry="10.2" transform="rotate(25 1136.3 736)" fill="rgb(20,20,20)" opacity="0.9"/><ellipse cx="1180.9" cy="736" rx="15.0" ry="10.2" transform="rotate(25 1180.9 736)" fill="rgb(20,20,20)" opacity="0.9"/><ellipse cx="1225.4" cy="736" rx="15.0" ry="10.2" transform="rotate(25 1225.4 736)" fill="rgb(20,20,20)" opacity="0.9"/><ellipse cx="1269.3" cy="736" rx="15.0" ry="10.2" transform="rotate(25 1269.3 736)" fill="rgb(20,20,20)" opacity="0.9"/><ellipse cx="868.5" cy="777" rx="15.0" ry="10.2" transform="rotate(20 868.5 777)" fill="rgb(25,25,25)" opacity="0.88"/><ellipse cx="911.9" cy="777" rx="15.0" ry="10.2" transform="rotate(20 911.9 777)" fill="rgb(25,25,25)" opacity="0.88"/><ellipse cx="955.3" cy="777" rx="15.0" ry="10.2" transform="rotate(20 955.3 777)" fill="rgb(25,25,25)" opacity="0.88"/><ellipse cx="998.7" cy="777" rx="15.0" ry="10.2" transform="rotate(20 998.7 777)" fill="rgb(25,25,25)" opacity="0.88"/><ellipse cx="1044.5" cy="777" rx="15.0" ry="10.2" transform="rotate(20 1044.5 777)" fill="rgb(25,25,25)" opacity="0.88"/><ellipse cx="1087.9" cy="777" rx="15.0" ry="10.2" transform="rotate(20 1087.9 777)" fill="rgb(25,25,25)" opacity="0.88"/><ellipse cx="1133.6" cy="777" rx="15.0" ry="10.2" transform="rotate(20 1133.6 777)" fill="rgb(25,25,25)" opacity="0.88"/><ellipse cx="1178.2" cy="777" rx="15.0" ry="10.2" transform="rotate(20 1178.2 777)" fill="rgb(25,25,25)" opacity="0.88"/><ellipse cx="1222.7" cy="777" rx="15.0" ry="10.2" transform="rotate(20 1222.7 777)" fill="rgb(25,25,25)" opacity="0.88"/><ellipse cx="1266.6" cy="777" rx="15.0" ry="10.2" transform="rotate(20 1266.6 777)" fill="rgb(25,25,25)" opacity="0.88"/><ellipse cx="869.8" cy="818" rx="15.0" ry="10.2" transform="rotate(25 869.8 818)" fill="rgb(20,20,20)" opacity="0.9"/><ellipse cx="913.2" cy="818" rx="15.0" ry="10.2" transform="rotate(25 913.2 818)" fill="rgb(20,20,20)" opacity="0.9"/><ellipse cx="956.6" cy="818" rx="15.0" ry="10.2" transform="rotate(25 956.6 818)" fill="rgb(20,20,20)" opacity="0.9"/><ellipse cx="1000.0" cy="818" rx="15.0" ry="10.2" transform="rotate(25 1000.0 818)" fill="rgb(20,20,20)" opacity="0.9"/><ellipse cx="1045.8" cy="818" rx="15.0" ry="10.2" transform="rotate(25 1045.8 818)" fill="rgb(20,20,20)" opacity="0.9"/><ellipse cx="1089.2" cy="818" rx="15.0" ry="10.2" transform="rotate(25 1089.2 818)" fill="rgb(20,20,20)" opacity="0.9"/><ellipse cx="1134.9" cy="818" rx="15.0" ry="10.2" transform="rotate(25 1134.9 818)" fill="rgb(20,20,20)" opacity="0.9"/><ellipse cx="1179.5" cy="818" rx="15.0" ry="10.2" transform="rotate(25 1179.5 818)" fill="rgb(20,20,20)" opacity="0.9"/><ellipse cx="1224.0" cy="818" rx="15.0" ry="10.2" transform="rotate(25 1224.0 818)" fill="rgb(20,20,20)" opacity="0.9"/><ellipse cx="1267.9" cy="818" rx="15.0" ry="10.2" transform="rotate(25 1267.9 818)" fill="rgb(20,20,20)" opacity="0.9"/><ellipse cx="867.1" cy="862" rx="15.0" ry="10.2" transform="rotate(20 867.1 862)" fill="rgb(25,25,25)" opacity="0.88"/><ellipse cx="910.5" cy="862" rx="15.0" ry="10.2" transform="rotate(20 910.5 862)" fill="rgb(25,25,25)" opacity="0.88"/><ellipse cx="953.9" cy="862" rx="15.0" ry="10.2" transform="rotate(20 953.9 862)" fill="rgb(25,25,25)" opacity="0.88"/><ellipse cx="997.3" cy="862" rx="15.0" ry="10.2" transform="rotate(20 997.3 862)" fill="rgb(25,25,25)" opacity="0.88"/><ellipse cx="1043.1" cy="862" rx="15.0" ry="10.2" transform="rotate(20 1043.1 862)" fill="rgb(25,25,25)" opacity="0.88"/><ellipse cx="1086.5" cy="862" rx="15.0" ry="10.2" transform="rotate(20 1086.5 862)" fill="rgb(25,25,25)" opacity="0.88"/><ellipse cx="1132.2" cy="862" rx="15.0" ry="10.2" transform="rotate(20 1132.2 862)" fill="rgb(25,25,25)" opacity="0.88"/><ellipse cx="1176.8" cy="862" rx="15.0" ry="10.2" transform="rotate(20 1176.8 862)" fill="rgb(25,25,25)" opacity="0.88"/><ellipse cx="1221.3" cy="862" rx="15.0" ry="10.2" transform="rotate(20 1221.3 862)" fill="rgb(25,25,25)" opacity="0.88"/><ellipse cx="1265.2" cy="862" rx="15.0" ry="10.2" transform="rotate(20 1265.2 862)" fill="rgb(25,25,25)" opacity="0.88"/></g><g filter="url(#blur6)"><circle cx="894.9" cy="490" r="11" fill="#e8e8e8" opacity="0.6"/><circle cx="938.3" cy="490" r="11" fill="#e8e8e8" opacity="0.6"/><circle cx="981.7" cy="490" r="11" fill="#e8e8e8" opacity="0.6"/><circle cx="1025.1" cy="490" r="11" fill="#e8e8e8" opacity="0.6"/><circle cx="1070.9" cy="490" r="11" fill="#e8e8e8" opacity="0.6"/><circle cx="1114.3" cy="490" r="11" fill="#e8e8e8" opacity="0.6"/><circle cx="1160.0" cy="490" r="11" fill="#e8e8e8" opacity="0.6"/><circle cx="1204.6" cy="490" r="11" fill="#e8e8e8" opacity="0.6"/><circle cx="1249.1" cy="490" r="11" fill="#e8e8e8" opacity="0.6"/><circle cx="1293.0" cy="490" r="11" fill="#e8e8e8" opacity="0.6"/><circle cx="894.6" cy="536" r="11" fill="#e8e8e8" opacity="0.6"/><circle cx="938.0" cy="536" r="11" fill="#e8e8e8" opacity="0.6"/><circle cx="981.4" cy="536" r="11" fill="#e8e8e8" opacity="0.6"/><circle cx="1024.8" cy="536" r="11" fill="#e8e8e8" opacity="0.6"/><circle cx="1070.6" cy="536" r="11" fill="#e8e8e8" opacity="0.6"/><circle cx="1114.0" cy="536" r="11" fill="#e8e8e8" opacity="0.6"/><circle cx="1159.7" cy="536" r="11" fill="#e8e8e8" opacity="0.6"/><circle cx="1204.3" cy="536" r="11" fill="#e8e8e8" opacity="0.6"/><circle cx="1248.8" cy="536" r="11" fill="#e8e8e8" opacity="0.6"/><circle cx="1292.7" cy="536" r="11" fill="#e8e8e8" opacity="0.6"/><circle cx="893.9" cy="580" r="11" fill="#e8e8e8" opacity="0.6"/><circle cx="937.3" cy="580" r="11" fill="#e8e8e8" opacity="0.6"/><circle cx="980.7" cy="580" r="11" fill="#e8e8e8" opacity="0.6"/><circle cx="1024.1" cy="580" r="11" fill="#e8e8e8" opacity="0.6"/><circle cx="1069.9" cy="580" r="11" fill="#e8e8e8" opacity="0.6"/><circle cx="1113.3" cy="580" r="11" fill="#e8e8e8" opacity="0.6"/><circle cx="1159.0" cy="580" r="11" fill="#e8e8e8" opacity="0.6"/><circle cx="1203.6" cy="580" r="11" fill="#e8e8e8" opacity="0.6"/><circle cx="1248.1" cy="580" r="11" fill="#e8e8e8" opacity="0.6"/><circle cx="1292.0" cy="580" r="11" fill="#e8e8e8" opacity="0.6"/><circle cx="893.1" cy="625" r="11" fill="#e8e8e8" opacity="0.6"/><circle cx="936.5" cy="625" r="11" fill="#e8e8e8" opacity="0.6"/><circle cx="979.9" cy="625" r="11" fill="#e8e8e8" opacity="0.6"/><circle cx="1023.3" cy="625" r="11" fill="#e8e8e8" opacity="0.6"/><circle cx="1069.1" cy="625" r="11" fill="#e8e8e8" opacity="0.6"/><circle cx="1112.5" cy="625" r="11" fill="#e8e8e8" opacity="0.6"/><circle cx="1158.2" cy="625" r="11" fill="#e8e8e8" opacity="0.6"/><circle cx="1202.8" cy="625" r="11" fill="#e8e8e8" opacity="0.6"/><circle cx="1247.3" cy="625" r="11" fill="#e8e8e8" opacity="0.6"/><circle cx="1291.2" cy="625" r="11" fill="#e8e8e8" opacity="0.6"/><circle cx="892.4" cy="669" r="11" fill="#e8e8e8" opacity="0.6"/><circle cx="935.8" cy="669" r="11" fill="#e8e8e8" opacity="0.6"/><circle cx="979.2" cy="669" r="11" fill="#e8e8e8" opacity="0.6"/><circle cx="1022.6" cy="669" r="11" fill="#e8e8e8" opacity="0.6"/><circle cx="1068.4" cy="669" r="11" fill="#e8e8e8" opacity="0.6"/><circle cx="1111.8" cy="669" r="11" fill="#e8e8e8" opacity="0.6"/><circle cx="1157.5" cy="669" r="11" fill="#e8e8e8" opacity="0.6"/><circle cx="1202.1" cy="669" r="11" fill="#e8e8e8" opacity="0.6"/><circle cx="1246.6" cy="669" r="11" fill="#e8e8e8" opacity="0.6"/><circle cx="1290.5" cy="669" r="11" fill="#e8e8e8" opacity="0.6"/><circle cx="891.6" cy="713" r="11" fill="#e8e8e8" opacity="0.6"/><circle cx="935.0" cy="713" r="11" fill="#e8e8e8" opacity="0.6"/><circle cx="978.4" cy="713" r="11" fill="#e8e8e8" opacity="0.6"/><circle cx="1021.8" cy="713" r="11" fill="#e8e8e8" opacity="0.6"/><circle cx="1067.6" cy="713" r="11" fill="#e8e8e8" opacity="0.6"/><circle cx="1111.0" cy="713" r="11" fill="#e8e8e8" opacity="0.6"/><circle cx="1156.7" cy="713" r="11" fill="#e8e8e8" opacity="0.6"/><circle cx="1201.3" cy="713" r="11" fill="#e8e8e8" opacity="0.6"/><circle cx="1245.8" cy="713" r="11" fill="#e8e8e8" opacity="0.6"/><circle cx="1289.7" cy="713" r="11" fill="#e8e8e8" opacity="0.6"/><circle cx="890.9" cy="756" r="11" fill="#e8e8e8" opacity="0.6"/><circle cx="934.3" cy="756" r="11" fill="#e8e8e8" opacity="0.6"/><circle cx="977.7" cy="756" r="11" fill="#e8e8e8" opacity="0.6"/><circle cx="1021.1" cy="756" r="11" fill="#e8e8e8" opacity="0.6"/><circle cx="1066.9" cy="756" r="11" fill="#e8e8e8" opacity="0.6"/><circle cx="1110.3" cy="756" r="11" fill="#e8e8e8" opacity="0.6"/><circle cx="1156.0" cy="756" r="11" fill="#e8e8e8" opacity="0.6"/><circle cx="1200.6" cy="756" r="11" fill="#e8e8e8" opacity="0.6"/><circle cx="1245.1" cy="756" r="11" fill="#e8e8e8" opacity="0.6"/><circle cx="1289.0" cy="756" r="11" fill="#e8e8e8" opacity="0.6"/><circle cx="890.2" cy="798" r="11" fill="#e8e8e8" opacity="0.6"/><circle cx="933.6" cy="798" r="11" fill="#e8e8e8" opacity="0.6"/><circle cx="977.0" cy="798" r="11" fill="#e8e8e8" opacity="0.6"/><circle cx="1020.4" cy="798" r="11" fill="#e8e8e8" opacity="0.6"/><circle cx="1066.2" cy="798" r="11" fill="#e8e8e8" opacity="0.6"/><circle cx="1109.6" cy="798" r="11" fill="#e8e8e8" opacity="0.6"/><circle cx="1155.3" cy="798" r="11" fill="#e8e8e8" opacity="0.6"/><circle cx="1199.9" cy="798" r="11" fill="#e8e8e8" opacity="0.6"/><circle cx="1244.4" cy="798" r="11" fill="#e8e8e8" opacity="0.6"/><circle cx="1288.3" cy="798" r="11" fill="#e8e8e8" opacity="0.6"/><circle cx="889.5" cy="840" r="11" fill="#e8e8e8" opacity="0.6"/><circle cx="932.9" cy="840" r="11" fill="#e8e8e8" opacity="0.6"/><circle cx="976.3" cy="840" r="11" fill="#e8e8e8" opacity="0.6"/><circle cx="1019.7" cy="840" r="11" fill="#e8e8e8" opacity="0.6"/><circle cx="1065.5" cy="840" r="11" fill="#e8e8e8" opacity="0.6"/><circle cx="1108.9" cy="840" r="11" fill="#e8e8e8" opacity="0.6"/><circle cx="1154.6" cy="840" r="11" fill="#e8e8e8" opacity="0.6"/><circle cx="1199.2" cy="840" r="11" fill="#e8e8e8" opacity="0.6"/><circle cx="1243.7" cy="840" r="11" fill="#e8e8e8" opacity="0.6"/><circle cx="1287.6" cy="840" r="11" fill="#e8e8e8" opacity="0.6"/></g></g></g>
<line x1="947.7" y1="872.7" x2="947.7" y2="710" stroke="#fff" stroke-width="3.7"/>
<polygon points="947.5,694.2 937.2,714 957.8,714" fill="#fff"/>
<text transform="translate(920.20 853.73) rotate(-90)" x="0" y="0" font-size="49.40" fill="#fff" textLength="124.27" lengthAdjust="spacingAndGlyphs">z-axis</text>
<g clip-path="url(#hadClip)"><g filter="url(#grain2)">
<rect x="1264.0" y="75.5" width="370.20000000000005" height="802.5" fill="url(#hadProf)"/>
<g filter="url(#blur6)">
<ellipse cx="1243" cy="446" rx="12" ry="13.8" fill="rgb(70,70,70)" opacity="0.3"/>
<ellipse cx="1287.6" cy="446" rx="12" ry="13.8" fill="rgb(70,70,70)" opacity="0.3"/>
<ellipse cx="1332.8" cy="446" rx="12" ry="13.8" fill="rgb(70,70,70)" opacity="0.3"/>
<ellipse cx="1377.9" cy="446" rx="12" ry="13.8" fill="rgb(70,70,70)" opacity="0.3"/>
<ellipse cx="1423" cy="446" rx="12" ry="13.8" fill="rgb(70,70,70)" opacity="0.3"/>
<ellipse cx="1468.1" cy="446" rx="12" ry="13.8" fill="rgb(70,70,70)" opacity="0.3"/>
<ellipse cx="1511.1" cy="446" rx="12" ry="13.8" fill="rgb(70,70,70)" opacity="0.3"/>
<ellipse cx="1556.2" cy="446" rx="12" ry="13.8" fill="rgb(70,70,70)" opacity="0.3"/>
<ellipse cx="1601.3" cy="446" rx="12" ry="13.8" fill="rgb(70,70,70)" opacity="0.3"/>
<ellipse cx="1646" cy="446" rx="12" ry="13.8" fill="rgb(70,70,70)" opacity="0.3"/>
<ellipse cx="1243" cy="494" rx="14" ry="16.1" fill="rgb(130,130,130)" opacity="0.6"/>
<ellipse cx="1287.6" cy="494" rx="14" ry="16.1" fill="rgb(130,130,130)" opacity="0.6"/>
<ellipse cx="1332.8" cy="494" rx="14" ry="16.1" fill="rgb(130,130,130)" opacity="0.6"/>
<ellipse cx="1377.9" cy="494" rx="14" ry="16.1" fill="rgb(130,130,130)" opacity="0.6"/>
<ellipse cx="1423" cy="494" rx="14" ry="16.1" fill="rgb(130,130,130)" opacity="0.6"/>
<ellipse cx="1468.1" cy="494" rx="14" ry="16.1" fill="rgb(130,130,130)" opacity="0.6"/>
<ellipse cx="1511.1" cy="494" rx="14" ry="16.1" fill="rgb(130,130,130)" opacity="0.6"/>
<ellipse cx="1556.2" cy="494" rx="14" ry="16.1" fill="rgb(130,130,130)" opacity="0.6"/>
<ellipse cx="1601.3" cy="494" rx="14" ry="16.1" fill="rgb(130,130,130)" opacity="0.6"/>
<ellipse cx="1646" cy="494" rx="14" ry="16.1" fill="rgb(130,130,130)" opacity="0.6"/>
<ellipse cx="1243" cy="537" rx="14" ry="16.1" fill="rgb(125,125,125)" opacity="0.55"/>
<ellipse cx="1287.6" cy="537" rx="14" ry="16.1" fill="rgb(125,125,125)" opacity="0.55"/>
<ellipse cx="1332.8" cy="537" rx="14" ry="16.1" fill="rgb(125,125,125)" opacity="0.55"/>
<ellipse cx="1377.9" cy="537" rx="14" ry="16.1" fill="rgb(125,125,125)" opacity="0.55"/>
<ellipse cx="1423" cy="537" rx="14" ry="16.1" fill="rgb(125,125,125)" opacity="0.55"/>
<ellipse cx="1468.1" cy="537" rx="14" ry="16.1" fill="rgb(125,125,125)" opacity="0.55"/>
<ellipse cx="1511.1" cy="537" rx="14" ry="16.1" fill="rgb(125,125,125)" opacity="0.55"/>
<ellipse cx="1556.2" cy="537" rx="14" ry="16.1" fill="rgb(125,125,125)" opacity="0.55"/>
<ellipse cx="1601.3" cy="537" rx="14" ry="16.1" fill="rgb(125,125,125)" opacity="0.55"/>
<ellipse cx="1646" cy="537" rx="14" ry="16.1" fill="rgb(125,125,125)" opacity="0.55"/>
<ellipse cx="1243" cy="582" rx="15" ry="17.2" fill="rgb(185,185,185)" opacity="0.7"/>
<ellipse cx="1287.6" cy="582" rx="15" ry="17.2" fill="rgb(185,185,185)" opacity="0.7"/>
<ellipse cx="1332.8" cy="582" rx="15" ry="17.2" fill="rgb(185,185,185)" opacity="0.7"/>
<ellipse cx="1377.9" cy="582" rx="15" ry="17.2" fill="rgb(185,185,185)" opacity="0.7"/>
<ellipse cx="1423" cy="582" rx="15" ry="17.2" fill="rgb(185,185,185)" opacity="0.7"/>
<ellipse cx="1468.1" cy="582" rx="15" ry="17.2" fill="rgb(185,185,185)" opacity="0.7"/>
<ellipse cx="1511.1" cy="582" rx="15" ry="17.2" fill="rgb(185,185,185)" opacity="0.7"/>
<ellipse cx="1556.2" cy="582" rx="15" ry="17.2" fill="rgb(185,185,185)" opacity="0.7"/>
<ellipse cx="1601.3" cy="582" rx="15" ry="17.2" fill="rgb(185,185,185)" opacity="0.7"/>
<ellipse cx="1646" cy="582" rx="15" ry="17.2" fill="rgb(185,185,185)" opacity="0.7"/>
<ellipse cx="1243" cy="626" rx="14" ry="16.1" fill="rgb(165,165,165)" opacity="0.62"/>
<ellipse cx="1287.6" cy="626" rx="14" ry="16.1" fill="rgb(165,165,165)" opacity="0.62"/>
<ellipse cx="1332.8" cy="626" rx="14" ry="16.1" fill="rgb(165,165,165)" opacity="0.62"/>
<ellipse cx="1377.9" cy="626" rx="14" ry="16.1" fill="rgb(165,165,165)" opacity="0.62"/>
<ellipse cx="1423" cy="626" rx="14" ry="16.1" fill="rgb(165,165,165)" opacity="0.62"/>
<ellipse cx="1468.1" cy="626" rx="14" ry="16.1" fill="rgb(165,165,165)" opacity="0.62"/>
<ellipse cx="1511.1" cy="626" rx="14" ry="16.1" fill="rgb(165,165,165)" opacity="0.62"/>
<ellipse cx="1556.2" cy="626" rx="14" ry="16.1" fill="rgb(165,165,165)" opacity="0.62"/>
<ellipse cx="1601.3" cy="626" rx="14" ry="16.1" fill="rgb(165,165,165)" opacity="0.62"/>
<ellipse cx="1646" cy="626" rx="14" ry="16.1" fill="rgb(165,165,165)" opacity="0.62"/>
<ellipse cx="1243" cy="667" rx="15" ry="17.2" fill="rgb(185,185,185)" opacity="0.7"/>
<ellipse cx="1287.6" cy="667" rx="15" ry="17.2" fill="rgb(185,185,185)" opacity="0.7"/>
<ellipse cx="1332.8" cy="667" rx="15" ry="17.2" fill="rgb(185,185,185)" opacity="0.7"/>
<ellipse cx="1377.9" cy="667" rx="15" ry="17.2" fill="rgb(185,185,185)" opacity="0.7"/>
<ellipse cx="1423" cy="667" rx="15" ry="17.2" fill="rgb(185,185,185)" opacity="0.7"/>
<ellipse cx="1468.1" cy="667" rx="15" ry="17.2" fill="rgb(185,185,185)" opacity="0.7"/>
<ellipse cx="1511.1" cy="667" rx="15" ry="17.2" fill="rgb(185,185,185)" opacity="0.7"/>
<ellipse cx="1556.2" cy="667" rx="15" ry="17.2" fill="rgb(185,185,185)" opacity="0.7"/>
<ellipse cx="1601.3" cy="667" rx="15" ry="17.2" fill="rgb(185,185,185)" opacity="0.7"/>
<ellipse cx="1646" cy="667" rx="15" ry="17.2" fill="rgb(185,185,185)" opacity="0.7"/>
<ellipse cx="1243" cy="711" rx="14" ry="16.1" fill="rgb(165,165,165)" opacity="0.62"/>
<ellipse cx="1287.6" cy="711" rx="14" ry="16.1" fill="rgb(165,165,165)" opacity="0.62"/>
<ellipse cx="1332.8" cy="711" rx="14" ry="16.1" fill="rgb(165,165,165)" opacity="0.62"/>
<ellipse cx="1377.9" cy="711" rx="14" ry="16.1" fill="rgb(165,165,165)" opacity="0.62"/>
<ellipse cx="1423" cy="711" rx="14" ry="16.1" fill="rgb(165,165,165)" opacity="0.62"/>
<ellipse cx="1468.1" cy="711" rx="14" ry="16.1" fill="rgb(165,165,165)" opacity="0.62"/>
<ellipse cx="1511.1" cy="711" rx="14" ry="16.1" fill="rgb(165,165,165)" opacity="0.62"/>
<ellipse cx="1556.2" cy="711" rx="14" ry="16.1" fill="rgb(165,165,165)" opacity="0.62"/>
<ellipse cx="1601.3" cy="711" rx="14" ry="16.1" fill="rgb(165,165,165)" opacity="0.62"/>
<ellipse cx="1646" cy="711" rx="14" ry="16.1" fill="rgb(165,165,165)" opacity="0.62"/>
<ellipse cx="1243" cy="753" rx="15" ry="17.2" fill="rgb(185,185,185)" opacity="0.7"/>
<ellipse cx="1287.6" cy="753" rx="15" ry="17.2" fill="rgb(185,185,185)" opacity="0.7"/>
<ellipse cx="1332.8" cy="753" rx="15" ry="17.2" fill="rgb(185,185,185)" opacity="0.7"/>
<ellipse cx="1377.9" cy="753" rx="15" ry="17.2" fill="rgb(185,185,185)" opacity="0.7"/>
<ellipse cx="1423" cy="753" rx="15" ry="17.2" fill="rgb(185,185,185)" opacity="0.7"/>
<ellipse cx="1468.1" cy="753" rx="15" ry="17.2" fill="rgb(185,185,185)" opacity="0.7"/>
<ellipse cx="1511.1" cy="753" rx="15" ry="17.2" fill="rgb(185,185,185)" opacity="0.7"/>
<ellipse cx="1556.2" cy="753" rx="15" ry="17.2" fill="rgb(185,185,185)" opacity="0.7"/>
<ellipse cx="1601.3" cy="753" rx="15" ry="17.2" fill="rgb(185,185,185)" opacity="0.7"/>
<ellipse cx="1646" cy="753" rx="15" ry="17.2" fill="rgb(185,185,185)" opacity="0.7"/>
<ellipse cx="1243" cy="796" rx="14" ry="16.1" fill="rgb(165,165,165)" opacity="0.62"/>
<ellipse cx="1287.6" cy="796" rx="14" ry="16.1" fill="rgb(165,165,165)" opacity="0.62"/>
<ellipse cx="1332.8" cy="796" rx="14" ry="16.1" fill="rgb(165,165,165)" opacity="0.62"/>
<ellipse cx="1377.9" cy="796" rx="14" ry="16.1" fill="rgb(165,165,165)" opacity="0.62"/>
<ellipse cx="1423" cy="796" rx="14" ry="16.1" fill="rgb(165,165,165)" opacity="0.62"/>
<ellipse cx="1468.1" cy="796" rx="14" ry="16.1" fill="rgb(165,165,165)" opacity="0.62"/>
<ellipse cx="1511.1" cy="796" rx="14" ry="16.1" fill="rgb(165,165,165)" opacity="0.62"/>
<ellipse cx="1556.2" cy="796" rx="14" ry="16.1" fill="rgb(165,165,165)" opacity="0.62"/>
<ellipse cx="1601.3" cy="796" rx="14" ry="16.1" fill="rgb(165,165,165)" opacity="0.62"/>
<ellipse cx="1646" cy="796" rx="14" ry="16.1" fill="rgb(165,165,165)" opacity="0.62"/>
<ellipse cx="1243" cy="840" rx="15" ry="17.2" fill="rgb(185,185,185)" opacity="0.7"/>
<ellipse cx="1287.6" cy="840" rx="15" ry="17.2" fill="rgb(185,185,185)" opacity="0.7"/>
<ellipse cx="1332.8" cy="840" rx="15" ry="17.2" fill="rgb(185,185,185)" opacity="0.7"/>
<ellipse cx="1377.9" cy="840" rx="15" ry="17.2" fill="rgb(185,185,185)" opacity="0.7"/>
<ellipse cx="1423" cy="840" rx="15" ry="17.2" fill="rgb(185,185,185)" opacity="0.7"/>
<ellipse cx="1468.1" cy="840" rx="15" ry="17.2" fill="rgb(185,185,185)" opacity="0.7"/>
<ellipse cx="1511.1" cy="840" rx="15" ry="17.2" fill="rgb(185,185,185)" opacity="0.7"/>
<ellipse cx="1556.2" cy="840" rx="15" ry="17.2" fill="rgb(185,185,185)" opacity="0.7"/>
<ellipse cx="1601.3" cy="840" rx="15" ry="17.2" fill="rgb(185,185,185)" opacity="0.7"/>
<ellipse cx="1646" cy="840" rx="15" ry="17.2" fill="rgb(185,185,185)" opacity="0.7"/>
<ellipse cx="1243" cy="882" rx="14" ry="16.1" fill="rgb(165,165,165)" opacity="0.62"/>
<ellipse cx="1287.6" cy="882" rx="14" ry="16.1" fill="rgb(165,165,165)" opacity="0.62"/>
<ellipse cx="1332.8" cy="882" rx="14" ry="16.1" fill="rgb(165,165,165)" opacity="0.62"/>
<ellipse cx="1377.9" cy="882" rx="14" ry="16.1" fill="rgb(165,165,165)" opacity="0.62"/>
<ellipse cx="1423" cy="882" rx="14" ry="16.1" fill="rgb(165,165,165)" opacity="0.62"/>
<ellipse cx="1468.1" cy="882" rx="14" ry="16.1" fill="rgb(165,165,165)" opacity="0.62"/>
<ellipse cx="1511.1" cy="882" rx="14" ry="16.1" fill="rgb(165,165,165)" opacity="0.62"/>
<ellipse cx="1556.2" cy="882" rx="14" ry="16.1" fill="rgb(165,165,165)" opacity="0.62"/>
<ellipse cx="1601.3" cy="882" rx="14" ry="16.1" fill="rgb(165,165,165)" opacity="0.62"/>
<ellipse cx="1646" cy="882" rx="14" ry="16.1" fill="rgb(165,165,165)" opacity="0.62"/>
</g>
</g></g>
<rect x="1324.5" y="831.2" width="220.8" height="12.6" fill="#000"/>
<text x="1361.63" y="806.00" font-size="71.27" font-weight="bold" fill="#000" textLength="142.34" lengthAdjust="spacingAndGlyphs">1nm</text>
<line x1="742.9" y1="226.9" x2="842" y2="226.9" stroke="#ed7d31" stroke-width="5.5" stroke-dasharray="15.4 5.2"/>
<polyline points="832.5,213.6 852.5,226.9 832.5,240.20000000000002" fill="none" stroke="#ed7d31" stroke-width="5.5" stroke-linecap="round" stroke-linejoin="miter"/>
<line x1="742.9" y1="317.1" x2="842" y2="317.1" stroke="#ed7d31" stroke-width="5.5" stroke-dasharray="15.4 5.2"/>
<polyline points="832.5,303.8 852.5,317.1 832.5,330.40000000000003" fill="none" stroke="#ed7d31" stroke-width="5.5" stroke-linecap="round" stroke-linejoin="miter"/>
<line x1="742.9" y1="405.4" x2="842" y2="405.4" stroke="#ed7d31" stroke-width="5.5" stroke-dasharray="15.4 5.2"/>
<polyline points="832.5,392.09999999999997 852.5,405.4 832.5,418.7" fill="none" stroke="#ed7d31" stroke-width="5.5" stroke-linecap="round" stroke-linejoin="miter"/>
<line x1="742.9" y1="446.9" x2="842" y2="446.9" stroke="#0070c0" stroke-width="5.5" stroke-dasharray="15.4 5.2"/>
<polyline points="832.5,433.59999999999997 852.5,446.9 832.5,460.2" fill="none" stroke="#0070c0" stroke-width="5.5" stroke-linecap="round" stroke-linejoin="miter"/>
<g stroke="#000" stroke-width="5" fill="none" stroke-linecap="round" stroke-linejoin="round"><line x1="796.4" y1="231" x2="796.4" y2="313"/><polyline points="783.1999999999999,247.1 796.4,230 809.6,247.1"/><polyline points="783.1999999999999,296.9 796.4,314 809.6,296.9"/></g>
<g stroke="#000" stroke-width="5" fill="none" stroke-linecap="round" stroke-linejoin="round"><line x1="798.6" y1="321" x2="798.6" y2="400.4"/><polyline points="785.7,335.4 798.6,320 811.5,335.4"/><polyline points="785.7,386.0 798.6,401.4 811.5,386.0"/></g>
<g stroke="#000" stroke-width="5" fill="none" stroke-linecap="round" stroke-linejoin="round"><line x1="798" y1="409.3" x2="798" y2="441.6"/><polyline points="780,422.0 798,408.3 816,422.0"/><polyline points="780,428.90000000000003 798,442.6 816,428.90000000000003"/></g>
<text x="600.42" y="288.80" font-size="48.22" fill="#000" textLength="174.56" lengthAdjust="spacingAndGlyphs">0.38 nm</text>
<text x="595.24" y="378.30" font-size="48.65" fill="#000" textLength="174.44" lengthAdjust="spacingAndGlyphs">0.39 nm</text>
<text x="597.05" y="438.80" font-size="48.65" fill="#000" textLength="172.99" lengthAdjust="spacingAndGlyphs">0.23 nm</text>
<circle cx="1660.6" cy="227.0" r="8.7" fill="url(#gC)"/>
<circle cx="1660.6" cy="317.2" r="8.7" fill="url(#gC)"/>
<circle cx="1660.6" cy="405.1" r="8.7" fill="url(#gC)"/>
<circle cx="1661.3" cy="446.2" r="12.2" fill="url(#gFe)"/>
<circle cx="1661.3" cy="537.9" r="12.2" fill="url(#gFe)"/>
<circle cx="1661.3" cy="625.4" r="12.2" fill="url(#gFe)"/>
<circle cx="1661.3" cy="715.7" r="12.2" fill="url(#gFe)"/>
<circle cx="1661.3" cy="800.2" r="12.2" fill="url(#gFe)"/>
<circle cx="1661.5" cy="494.3" r="20.2" fill="url(#gPd)"/>
<circle cx="1661.5" cy="583.7" r="20.2" fill="url(#gPd)"/>
<circle cx="1661.5" cy="673.5" r="20.2" fill="url(#gPd)"/>
<circle cx="1661.5" cy="760.1" r="20.2" fill="url(#gPd)"/>
<circle cx="1661.5" cy="842.6" r="20.2" fill="url(#gPd)"/>
<text x="1704.16" y="246.40" font-size="41.08" fill="#000" textLength="28.47" lengthAdjust="spacingAndGlyphs">C</text>
<text x="1702.46" y="331.00" font-size="41.08" fill="#000" textLength="28.47" lengthAdjust="spacingAndGlyphs">C</text>
<text x="1702.46" y="413.10" font-size="41.08" fill="#000" textLength="28.47" lengthAdjust="spacingAndGlyphs">C</text>
<text x="1698.13" y="457.70" font-size="42.12" fill="#000" textLength="47.13" lengthAdjust="spacingAndGlyphs">Fe</text>
<text x="1698.13" y="547.90" font-size="42.12" fill="#000" textLength="47.13" lengthAdjust="spacingAndGlyphs">Fe</text>
<text x="1698.13" y="637.00" font-size="42.12" fill="#000" textLength="47.13" lengthAdjust="spacingAndGlyphs">Fe</text>
<text x="1698.13" y="726.70" font-size="42.12" fill="#000" textLength="47.13" lengthAdjust="spacingAndGlyphs">Fe</text>
<text x="1698.13" y="809.20" font-size="42.12" fill="#000" textLength="47.13" lengthAdjust="spacingAndGlyphs">Fe</text>
<text x="1697.63" y="507.80" font-size="42.12" fill="#000" textLength="49.40" lengthAdjust="spacingAndGlyphs">Pd</text>
<text x="1697.63" y="596.20" font-size="42.12" fill="#000" textLength="49.40" lengthAdjust="spacingAndGlyphs">Pd</text>
<text x="1697.63" y="687.00" font-size="42.12" fill="#000" textLength="49.40" lengthAdjust="spacingAndGlyphs">Pd</text>
<text x="1697.63" y="772.70" font-size="42.12" fill="#000" textLength="49.40" lengthAdjust="spacingAndGlyphs">Pd</text>
<text x="1697.63" y="855.10" font-size="42.12" fill="#000" textLength="49.40" lengthAdjust="spacingAndGlyphs">Pd</text>
<text x="86.37" y="1118.20" font-size="35.31" fill="#000" textLength="39.26" lengthAdjust="spacingAndGlyphs">(c)</text>
<g stroke="#d9d9d9" stroke-width="1.8"><line x1="347.5" y1="1604.1" x2="1309.3" y2="1604.1"/><line x1="347.5" y1="1528.2" x2="1309.3" y2="1528.2"/><line x1="347.5" y1="1452.4" x2="1309.3" y2="1452.4"/><line x1="347.5" y1="1376.6" x2="1309.3" y2="1376.6"/><line x1="347.5" y1="1300.8" x2="1309.3" y2="1300.8"/><line x1="347.5" y1="1224.9" x2="1309.3" y2="1224.9"/><line x1="507.8" y1="1149.1" x2="507.8" y2="1679.9"/><line x1="668.1" y1="1149.1" x2="668.1" y2="1679.9"/><line x1="828.4" y1="1149.1" x2="828.4" y2="1679.9"/><line x1="988.7" y1="1149.1" x2="988.7" y2="1679.9"/><line x1="1149.0" y1="1149.1" x2="1149.0" y2="1679.9"/></g>
<g stroke="#000" stroke-width="2.4" stroke-dasharray="9.8 8.3"><line x1="383.7" y1="1292.3" x2="383.7" y2="1664.3"/><line x1="439.4" y1="1295" x2="439.4" y2="1664.3"/><line x1="494.3" y1="1292" x2="494.3" y2="1664.3"/><line x1="546.5" y1="1292" x2="546.5" y2="1664.3"/><line x1="601.8" y1="1292" x2="601.8" y2="1664.3"/><line x1="655.8" y1="1292" x2="655.8" y2="1664.3"/><line x1="708" y1="1292" x2="708" y2="1664.3"/><line x1="762.9" y1="1292" x2="762.9" y2="1664.3"/><line x1="821" y1="1291.2" x2="821" y2="1664.5"/><line x1="879.4" y1="1291.2" x2="879.4" y2="1662.5"/><line x1="991.7" y1="1291.2" x2="991.7" y2="1662.5"/><line x1="1097.8" y1="1291.2" x2="1097.8" y2="1657.5"/><line x1="818.2" y1="1080.3" x2="818.2" y2="1189.4"/><line x1="879.8" y1="1080.3" x2="879.8" y2="1189.4"/><line x1="988.9" y1="1080.3" x2="988.9" y2="1189.4"/><line x1="1095.9" y1="1080.3" x2="1095.9" y2="1189.4"/></g>
<rect x="347.5" y="1149.1" width="961.8" height="530.8" fill="none" stroke="#000" stroke-width="2.6"/>
<path d="M348.8,1536.8 C349.6,1538.9 351.9,1548.6 353.8,1549.4 C355.7,1550.2 358.4,1543.7 360.1,1541.8 C361.8,1539.9 362.4,1541.3 363.9,1538.0 C365.4,1534.7 367.0,1525.9 368.9,1521.7 C370.8,1517.5 373.1,1517.7 375.2,1512.9 C377.3,1508.1 379.4,1497.3 381.5,1492.8 C383.6,1488.3 385.9,1486.3 387.8,1485.9 C389.7,1485.5 391.1,1486.2 392.8,1490.3 C394.5,1494.4 396.1,1502.2 397.8,1510.4 C399.5,1518.6 401.0,1531.3 402.9,1539.3 C404.8,1547.3 407.4,1555.2 409.1,1558.2 C410.8,1561.2 411.6,1557.4 412.9,1557.5 C414.2,1557.6 415.0,1560.1 416.7,1558.8 C418.4,1557.5 421.1,1552.2 423.0,1549.4 C424.9,1546.6 426.5,1545.8 428.0,1541.8 C429.5,1537.8 430.3,1529.7 431.8,1525.5 C433.3,1521.3 435.1,1518.8 436.8,1516.7 C438.5,1514.6 440.1,1512.3 441.8,1512.9 C443.5,1513.5 445.2,1518.4 446.9,1520.5 C448.6,1522.6 449.8,1522.2 451.9,1525.5 C454.0,1528.8 457.2,1535.6 459.4,1540.6 C461.6,1545.6 463.0,1554.5 465.1,1555.6 C467.2,1556.6 469.8,1551.1 472.0,1546.9 C474.2,1542.7 476.4,1535.8 478.3,1530.5 C480.2,1525.2 481.4,1519.2 483.3,1515.4 C485.2,1511.6 487.8,1511.4 489.6,1507.9 C491.4,1504.5 492.5,1496.2 494.0,1494.7 C495.5,1493.2 496.8,1495.2 498.4,1499.1 C500.0,1503.0 501.7,1511.8 503.4,1517.9 C505.1,1524.0 506.9,1529.6 508.4,1535.5 C509.9,1541.4 510.9,1549.5 512.2,1553.1 C513.5,1556.7 514.5,1554.7 516.0,1556.9 C517.5,1559.1 519.3,1566.5 521.0,1566.3 C522.7,1566.1 524.5,1560.7 526.0,1555.6 C527.5,1550.5 528.3,1540.7 529.8,1535.5 C531.3,1530.3 533.1,1528.2 534.8,1524.2 C536.5,1520.2 538.6,1513.9 539.9,1511.7 C541.2,1509.5 540.7,1510.8 542.4,1511.0 C544.1,1511.2 547.8,1510.9 549.9,1512.9 C552.0,1514.9 553.1,1518.4 555.0,1523.0 C556.9,1527.6 559.6,1536.4 561.3,1540.6 C563.0,1544.8 563.8,1546.3 565.1,1548.2 C566.4,1550.1 567.3,1550.2 568.9,1551.9 C570.5,1553.6 572.6,1558.0 574.5,1558.2 C576.4,1558.4 578.2,1556.6 580.2,1553.2 C582.2,1549.8 584.6,1543.1 586.5,1538.1 C588.4,1533.1 590.0,1527.0 591.5,1523.0 C593.0,1519.0 593.8,1516.3 595.3,1514.2 C596.8,1512.1 598.8,1511.8 600.3,1510.5 C601.8,1509.2 602.9,1505.9 604.1,1506.7 C605.4,1507.5 606.3,1511.5 607.8,1515.5 C609.3,1519.5 611.2,1526.0 612.9,1530.6 C614.6,1535.2 616.4,1538.7 617.9,1543.1 C619.4,1547.5 620.3,1552.2 621.7,1557.0 C623.1,1561.8 624.4,1571.2 626.1,1572.0 C627.8,1572.8 629.9,1565.8 631.7,1562.0 C633.5,1558.2 635.2,1553.2 636.7,1549.4 C638.2,1545.6 639.0,1542.8 640.5,1539.4 C642.0,1536.1 643.8,1532.9 645.5,1529.3 C647.2,1525.7 648.9,1520.9 650.6,1518.0 C652.3,1515.1 653.5,1512.3 655.6,1511.7 C657.7,1511.1 661.0,1512.3 663.1,1514.2 C665.2,1516.1 666.3,1518.8 668.2,1523.0 C670.1,1527.2 672.7,1534.8 674.5,1539.4 C676.3,1544.0 677.4,1549.7 678.9,1550.7 C680.4,1551.7 681.9,1547.2 683.2,1545.6 C684.6,1544.0 685.6,1542.5 687.0,1541.3 C688.4,1540.0 690.2,1541.3 691.4,1538.1 C692.5,1534.8 693.1,1527.0 693.9,1521.8 C694.7,1516.6 695.2,1510.0 696.4,1506.7 C697.5,1503.4 699.2,1503.8 700.8,1501.7 C702.4,1499.6 704.2,1493.7 705.9,1494.1 C707.6,1494.5 709.0,1500.2 710.9,1504.2 C712.8,1508.2 715.2,1513.4 717.2,1518.0 C719.2,1522.6 721.2,1529.5 722.9,1531.8 C724.6,1534.1 725.9,1531.2 727.2,1531.8 C728.6,1532.4 729.6,1534.5 731.0,1535.6 C732.4,1536.6 733.9,1538.5 735.4,1538.1 C736.9,1537.7 738.5,1536.0 739.8,1533.1 C741.1,1530.2 742.0,1526.0 743.0,1520.5 C744.0,1515.0 744.8,1507.1 746.1,1500.4 C747.5,1493.7 749.6,1485.3 751.1,1480.3 C752.6,1475.3 753.6,1472.3 754.9,1470.2 C756.2,1468.1 757.5,1468.6 758.7,1467.7 C760.0,1466.8 760.9,1464.2 762.4,1464.6 C763.9,1465.0 765.8,1468.2 767.5,1470.2 C769.2,1472.2 770.8,1473.7 772.4,1476.8 C774.0,1479.9 775.5,1486.3 777.3,1489.1 C779.1,1491.8 781.5,1490.9 783.1,1493.3 C784.8,1495.7 786.0,1500.0 787.2,1503.2 C788.4,1506.4 789.4,1511.9 790.5,1512.2 C791.6,1512.5 792.6,1510.2 793.8,1504.8 C795.0,1499.4 796.4,1487.2 797.9,1480.1 C799.4,1473.0 801.3,1468.3 802.8,1462.0 C804.3,1455.7 805.4,1448.8 807.0,1442.2 C808.6,1435.6 811.1,1426.5 812.7,1422.4 C814.4,1418.3 815.2,1417.8 816.9,1417.5 C818.5,1417.2 820.5,1418.3 822.6,1420.8 C824.7,1423.3 827.4,1427.1 829.2,1432.3 C831.0,1437.5 831.9,1441.1 833.3,1452.1 C834.7,1463.1 835.7,1485.3 837.5,1498.2 C839.3,1511.1 842.1,1520.8 844.0,1529.5 C845.9,1538.2 847.5,1547.9 849.0,1550.1 C850.5,1552.3 851.6,1547.8 853.1,1542.7 C854.6,1537.6 856.6,1530.3 858.1,1519.6 C859.6,1508.9 860.8,1493.0 862.2,1478.4 C863.6,1463.9 864.8,1446.6 866.3,1432.3 C867.8,1418.0 869.7,1403.4 871.2,1392.7 C872.7,1382.0 874.0,1373.1 875.4,1368.0 C876.8,1362.9 878.0,1361.4 879.5,1362.2 C881.0,1363.0 882.6,1365.7 884.4,1373.0 C886.2,1380.3 888.6,1396.0 890.2,1405.9 C891.9,1415.8 892.9,1421.0 894.3,1432.3 C895.7,1443.6 896.9,1464.2 898.4,1473.5 C899.9,1482.8 902.0,1480.3 903.4,1488.3 C904.8,1496.3 905.8,1511.9 906.7,1521.3 C907.7,1530.7 907.7,1538.9 909.1,1544.4 C910.5,1549.9 913.0,1549.5 914.9,1554.2 C916.8,1558.9 919.1,1568.6 920.7,1572.4 C922.4,1576.2 923.4,1577.0 924.8,1577.3 C926.2,1577.6 927.5,1573.2 928.9,1574.0 C930.3,1574.8 931.4,1578.3 933.0,1582.3 C934.6,1586.3 936.6,1595.4 938.8,1597.9 C941.0,1600.4 944.1,1598.6 946.2,1597.1 C948.3,1595.6 949.6,1594.6 951.2,1588.8 C952.9,1583.0 954.5,1572.4 956.1,1562.5 C957.8,1552.6 959.5,1539.9 961.1,1529.5 C962.8,1519.1 964.5,1505.9 966.0,1499.9 C967.5,1493.9 968.8,1495.8 970.0,1493.3 C971.2,1490.8 972.2,1489.1 973.3,1485.0 C974.4,1480.9 975.5,1475.6 976.6,1468.5 C977.7,1461.4 978.8,1451.0 979.9,1442.2 C981.0,1433.4 982.1,1422.7 983.2,1415.8 C984.3,1408.9 985.1,1404.6 986.5,1401.0 C987.9,1397.4 989.9,1393.6 991.4,1394.4 C992.9,1395.2 994.3,1402.3 995.5,1405.9 C996.7,1409.5 997.4,1415.0 998.8,1415.8 C1000.2,1416.6 1002.4,1410.4 1003.8,1410.9 C1005.2,1411.5 1006.0,1413.1 1007.1,1419.1 C1008.2,1425.1 1009.2,1435.6 1010.4,1447.1 C1011.6,1458.6 1013.3,1475.9 1014.5,1488.3 C1015.7,1500.7 1015.9,1512.5 1017.8,1521.3 C1019.7,1530.1 1024.1,1534.8 1026.0,1541.1 C1027.9,1547.4 1028.1,1552.3 1029.3,1559.2 C1030.5,1566.1 1032.2,1577.6 1033.4,1582.3 C1034.6,1587.0 1035.5,1582.5 1036.7,1587.2 C1038.0,1591.9 1039.7,1605.3 1040.9,1610.3 C1042.2,1615.2 1043.0,1616.9 1044.2,1616.9 C1045.4,1616.9 1046.9,1613.6 1048.3,1610.3 C1049.7,1607.0 1051.2,1600.4 1052.4,1597.1 C1053.6,1593.8 1054.5,1591.5 1055.7,1590.5 C1056.9,1589.5 1058.4,1597.3 1059.8,1591.3 C1061.2,1585.2 1062.4,1565.9 1063.9,1554.2 C1065.4,1542.5 1067.4,1532.8 1068.9,1521.3 C1070.4,1509.8 1071.8,1498.7 1073.0,1485.0 C1074.2,1471.3 1075.2,1451.8 1076.3,1438.9 C1077.4,1426.0 1078.4,1415.0 1079.6,1407.6 C1080.8,1400.2 1081.8,1398.8 1083.7,1394.4 C1085.6,1390.0 1089.3,1385.3 1091.1,1381.2 C1092.9,1377.1 1093.2,1373.7 1094.4,1369.7 C1095.6,1365.7 1097.1,1358.1 1098.5,1357.3 C1099.9,1356.5 1101.5,1358.8 1102.7,1364.7 C1104.0,1370.6 1105.0,1383.9 1106.0,1392.7 C1107.0,1401.5 1107.6,1412.5 1108.4,1417.5 C1109.2,1422.5 1109.9,1422.1 1110.9,1422.4 C1111.9,1422.7 1113.0,1417.4 1114.2,1419.1 C1115.4,1420.8 1117.2,1426.2 1118.3,1432.3 C1119.4,1438.3 1120.0,1448.0 1120.8,1455.4 C1121.6,1462.8 1122.2,1472.7 1123.3,1476.8 C1124.4,1480.9 1126.3,1476.8 1127.4,1480.1 C1128.5,1483.4 1128.7,1491.9 1129.9,1496.6 C1131.1,1501.3 1133.2,1504.5 1134.8,1508.1 C1136.4,1511.7 1138.2,1512.5 1139.7,1518.0 C1141.2,1523.5 1142.5,1534.2 1143.9,1541.1 C1145.3,1548.0 1146.6,1555.2 1148.0,1559.2 C1149.4,1563.2 1150.7,1564.5 1152.1,1565.0 C1153.5,1565.5 1154.8,1562.5 1156.2,1562.5 C1157.6,1562.5 1158.9,1565.5 1160.3,1565.0 C1161.7,1564.5 1163.0,1564.0 1164.5,1559.2 C1166.0,1554.4 1168.2,1540.1 1169.4,1536.1 C1170.6,1532.1 1170.8,1536.0 1171.8,1535.3 C1172.8,1534.6 1174.4,1534.1 1175.5,1531.7 C1176.6,1529.3 1177.3,1524.7 1178.2,1520.7 C1179.1,1516.7 1180.1,1511.0 1181.0,1507.9 C1181.9,1504.9 1182.6,1503.7 1183.7,1502.4 C1184.8,1501.1 1186.7,1501.9 1187.8,1500.1 C1188.9,1498.3 1189.2,1494.5 1190.1,1491.4 C1190.9,1488.3 1191.9,1483.7 1192.9,1481.4 C1193.9,1479.1 1195.0,1477.7 1196.1,1477.7 C1197.2,1477.7 1198.3,1480.4 1199.3,1481.4 C1200.3,1482.4 1201.1,1483.9 1202.0,1483.7 C1202.9,1483.5 1203.6,1482.6 1204.7,1480.5 C1205.8,1478.4 1207.2,1474.8 1208.4,1471.3 C1209.6,1467.8 1210.9,1462.3 1212.1,1459.4 C1213.3,1456.5 1214.6,1455.1 1215.7,1453.9 C1216.8,1452.7 1217.6,1451.3 1218.5,1452.1 C1219.4,1452.9 1220.3,1457.7 1221.2,1458.5 C1222.1,1459.3 1223.1,1458.7 1223.9,1456.7 C1224.7,1454.7 1225.0,1448.8 1225.8,1446.6 C1226.6,1444.4 1227.6,1443.2 1228.5,1443.4 C1229.4,1443.6 1230.4,1444.1 1231.3,1447.5 C1232.2,1450.9 1233.1,1458.5 1234.0,1464.0 C1234.9,1469.5 1235.8,1476.5 1236.7,1480.5 C1237.6,1484.5 1238.6,1486.3 1239.5,1487.8 C1240.4,1489.3 1241.3,1489.0 1242.2,1489.6 C1243.1,1490.2 1244.1,1492.9 1245.0,1491.4 C1245.9,1489.9 1246.8,1484.2 1247.7,1480.5 C1248.6,1476.8 1249.7,1471.3 1250.5,1469.5 C1251.3,1467.7 1252.0,1468.6 1252.7,1469.5 C1253.5,1470.4 1254.3,1472.4 1255.0,1475.0 C1255.7,1477.6 1256.3,1482.0 1256.9,1485.0 C1257.5,1488.0 1258.0,1491.5 1258.7,1493.3 C1259.5,1495.1 1260.5,1496.0 1261.4,1496.0 C1262.3,1496.0 1263.3,1493.0 1264.2,1493.3 C1265.1,1493.6 1265.8,1496.7 1266.9,1497.8 C1268.0,1498.9 1268.9,1499.2 1270.6,1499.7 C1272.3,1500.2 1275.3,1500.1 1277.0,1500.6 C1278.7,1501.0 1279.5,1501.7 1280.6,1502.4 C1281.7,1503.1 1282.4,1504.9 1283.4,1504.7 C1284.4,1504.5 1285.5,1501.3 1286.6,1501.5 C1287.7,1501.7 1288.8,1505.9 1289.8,1505.6 C1290.8,1505.3 1291.4,1501.5 1292.5,1499.7 C1293.6,1497.9 1295.1,1495.1 1296.2,1494.6 C1297.3,1494.1 1297.9,1496.2 1298.9,1496.9 C1299.9,1497.6 1301.0,1499.2 1302.1,1498.7 C1303.2,1498.2 1304.3,1496.2 1305.3,1494.2 C1306.3,1492.2 1307.3,1489.5 1308.1,1486.9 C1308.9,1484.3 1309.6,1480.0 1309.9,1478.6" fill="none" stroke="#0070c0" stroke-width="5.8" stroke-linejoin="round" stroke-linecap="round"/>
<text x="289.63" y="1692.90" font-size="41.60" fill="#000" textLength="22.19" lengthAdjust="spacingAndGlyphs">0</text>
<text x="267.39" y="1617.07" font-size="41.60" fill="#000" textLength="44.38" lengthAdjust="spacingAndGlyphs">50</text>
<text x="245.28" y="1541.24" font-size="41.60" fill="#000" textLength="66.58" lengthAdjust="spacingAndGlyphs">100</text>
<text x="245.28" y="1465.41" font-size="41.60" fill="#000" textLength="66.58" lengthAdjust="spacingAndGlyphs">150</text>
<text x="245.28" y="1389.59" font-size="41.60" fill="#000" textLength="66.58" lengthAdjust="spacingAndGlyphs">200</text>
<text x="245.28" y="1313.76" font-size="41.60" fill="#000" textLength="66.58" lengthAdjust="spacingAndGlyphs">250</text>
<text x="245.28" y="1237.93" font-size="41.60" fill="#000" textLength="66.58" lengthAdjust="spacingAndGlyphs">300</text>
<text x="245.28" y="1162.10" font-size="41.60" fill="#000" textLength="66.58" lengthAdjust="spacingAndGlyphs">350</text>
<text x="336.38" y="1743.20" font-size="41.60" fill="#000" textLength="22.19" lengthAdjust="spacingAndGlyphs">0</text>
<text x="485.56" y="1743.20" font-size="41.60" fill="#000" textLength="44.38" lengthAdjust="spacingAndGlyphs">50</text>
<text x="634.09" y="1743.20" font-size="41.60" fill="#000" textLength="66.58" lengthAdjust="spacingAndGlyphs">100</text>
<text x="794.39" y="1743.20" font-size="41.60" fill="#000" textLength="66.58" lengthAdjust="spacingAndGlyphs">150</text>
<text x="955.17" y="1743.20" font-size="41.60" fill="#000" textLength="66.58" lengthAdjust="spacingAndGlyphs">200</text>
<text x="1115.47" y="1743.20" font-size="41.60" fill="#000" textLength="66.58" lengthAdjust="spacingAndGlyphs">250</text>
<text x="1276.01" y="1743.20" font-size="41.60" fill="#000" textLength="66.58" lengthAdjust="spacingAndGlyphs">300</text>
<text x="661.73" y="1801.80" font-size="40.55" fill="#000" textLength="333.33" lengthAdjust="spacingAndGlyphs">z-line profile (a.u.)</text>
<text transform="translate(224.80 1679.15) rotate(-90)" x="0" y="0" font-size="43.50" fill="#000" textLength="521.77" lengthAdjust="spacingAndGlyphs">Gray contrast intensity (a.u.)</text>
<text x="357.65" y="1226.60" font-size="40.56" fill="#000" textLength="45.44" lengthAdjust="spacingAndGlyphs">Fe</text>
<text x="406.75" y="1226.60" font-size="40.56" fill="#000" textLength="47.63" lengthAdjust="spacingAndGlyphs">Pd</text>
<text x="469.65" y="1226.60" font-size="40.56" fill="#000" textLength="45.44" lengthAdjust="spacingAndGlyphs">Fe</text>
<text x="515.35" y="1226.60" font-size="40.56" fill="#000" textLength="47.63" lengthAdjust="spacingAndGlyphs">Pd</text>
<text x="579.65" y="1226.60" font-size="40.56" fill="#000" textLength="45.44" lengthAdjust="spacingAndGlyphs">Fe</text>
<text x="631.05" y="1226.60" font-size="40.56" fill="#000" textLength="47.63" lengthAdjust="spacingAndGlyphs">Pd</text>
<text x="688.15" y="1226.60" font-size="40.56" fill="#000" textLength="45.44" lengthAdjust="spacingAndGlyphs">Fe</text>
<text x="735.35" y="1226.60" font-size="40.56" fill="#000" textLength="47.63" lengthAdjust="spacingAndGlyphs">Pd</text>
<text x="796.75" y="1226.60" font-size="40.56" fill="#000" textLength="45.44" lengthAdjust="spacingAndGlyphs">Fe</text>
<text x="862.98" y="1228.50" font-size="40.56" fill="#000" textLength="28.12" lengthAdjust="spacingAndGlyphs">C</text>
<text x="973.08" y="1230.10" font-size="40.56" fill="#000" textLength="28.12" lengthAdjust="spacingAndGlyphs">C</text>
<text x="1086.68" y="1226.40" font-size="40.56" fill="#000" textLength="28.12" lengthAdjust="spacingAndGlyphs">C</text>
<circle cx="382.0" cy="1260.6" r="12.2" fill="url(#gFe)"/>
<circle cx="433.4" cy="1260.0" r="23.4" fill="url(#gPd)"/>
<circle cx="493.7" cy="1261.4" r="12.2" fill="url(#gFe)"/>
<circle cx="542.9" cy="1258.0" r="23.4" fill="url(#gPd)"/>
<circle cx="602.9" cy="1259.1" r="12.2" fill="url(#gFe)"/>
<circle cx="653.7" cy="1256.6" r="23.4" fill="url(#gPd)"/>
<circle cx="703.7" cy="1262.0" r="12.2" fill="url(#gFe)"/>
<circle cx="760.6" cy="1260.0" r="23.4" fill="url(#gPd)"/>
<circle cx="820.9" cy="1260.6" r="12.2" fill="url(#gFe)"/>
<circle cx="878.7" cy="1260.3" r="9.0" fill="url(#gC)"/>
<circle cx="989.8" cy="1260.3" r="9.0" fill="url(#gC)"/>
<circle cx="1098.5" cy="1258.8" r="9.0" fill="url(#gC)"/>
<text x="661.12" y="1041.40" font-size="48.36" fill="#000" textLength="175.11" lengthAdjust="spacingAndGlyphs">0.23 nm</text>
<text x="860.62" y="1041.40" font-size="48.36" fill="#000" textLength="175.11" lengthAdjust="spacingAndGlyphs">0.39 nm</text>
<text x="1070.32" y="1041.40" font-size="48.36" fill="#000" textLength="174.39" lengthAdjust="spacingAndGlyphs">0.38 nm</text>
<g stroke="#000" stroke-width="1.6" fill="none"><polyline points="796.6,1044.9 796.6,1069.7 849.7,1069.7 849.7,1108.7"/><line x1="934" y1="1048.4" x2="934" y2="1114.7"/><polyline points="1103,1043 1103,1066.2 1050.2,1066.2 1050.2,1106.9"/></g>
<g stroke="#000" stroke-width="4.6" fill="none" stroke-linecap="round" stroke-linejoin="round"><line x1="823.5" y1="1123.5" x2="875.5" y2="1123.5"/><polyline points="839.1,1106.0 822.5,1123.5 839.1,1141.0"/><polyline points="859.9,1106.0 876.5,1123.5 859.9,1141.0"/></g>
<g stroke="#000" stroke-width="4.6" fill="none" stroke-linecap="round" stroke-linejoin="round"><line x1="884.5" y1="1123.5" x2="985.5" y2="1123.5"/><polyline points="900.1,1106.0 883.5,1123.5 900.1,1141.0"/><polyline points="969.9,1106.0 986.5,1123.5 969.9,1141.0"/></g>
<g stroke="#000" stroke-width="4.6" fill="none" stroke-linecap="round" stroke-linejoin="round"><line x1="995.8" y1="1123.5" x2="1092" y2="1123.5"/><polyline points="1011.4,1106.0 994.8,1123.5 1011.4,1141.0"/><polyline points="1076.4,1106.0 1093,1123.5 1076.4,1141.0"/></g>
<rect x="1206.5" y="1221.4" width="439.1" height="86.9" fill="#fff" stroke="#000" stroke-width="3.5"/>
<circle cx="1233.8" cy="1269.3" r="8.6" fill="url(#gC)"/>
<circle cx="1349.8" cy="1268.5" r="12.1" fill="url(#gFe)"/>
<circle cx="1506.1" cy="1265.3" r="23.5" fill="url(#gPd)"/>
<text x="1257.64" y="1282.20" font-size="56.16" fill="#000" textLength="38.97" lengthAdjust="spacingAndGlyphs">C</text>
<text x="1379.45" y="1281.90" font-size="56.16" fill="#000" textLength="62.98" lengthAdjust="spacingAndGlyphs">Fe</text>
<text x="1541.25" y="1281.90" font-size="54.48" fill="#000" textLength="68.67" lengthAdjust="spacingAndGlyphs">Pd</text>
<text x="1338.18" y="1509.70" font-size="58.04" fill="#0070c0" textLength="106.18" lengthAdjust="spacingAndGlyphs">ABF</text>
</svg></body></html>
